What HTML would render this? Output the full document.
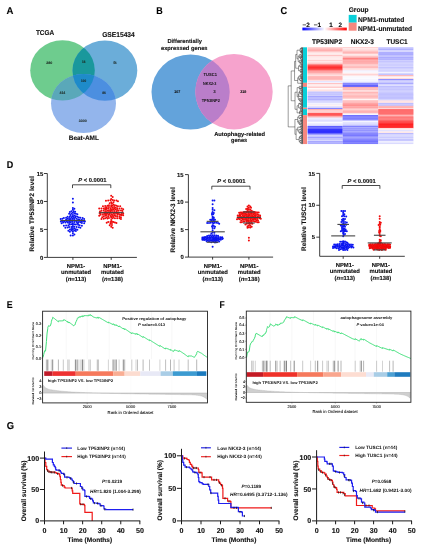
<!DOCTYPE html>
<html><head><meta charset="utf-8"><title>Figure</title>
<style>
html,body{margin:0;padding:0;background:#fff;}
svg{display:block;filter:blur(0.3px);}
text{font-family:"Liberation Sans", sans-serif;text-rendering:geometricPrecision;}
.b{stroke:#111;stroke-width:0.12px;}
.s{stroke:#222;stroke-width:0.1px;}
</style></head>
<body>
<svg width="424" height="550" viewBox="0 0 424 550">
<rect x="0" y="0" width="424" height="550" fill="#fff"/>
<text x="6.4" y="13.8" class="b" style="font-size:9.9px;font-weight:bold;" fill="#000" textLength="6.9" lengthAdjust="spacingAndGlyphs">A</text>
<text x="156.2" y="13.8" class="b" style="font-size:9.9px;font-weight:bold;" fill="#000" textLength="6.5" lengthAdjust="spacingAndGlyphs">B</text>
<text x="280.4" y="13.85" class="b" style="font-size:9.9px;font-weight:bold;" fill="#000" textLength="6.6" lengthAdjust="spacingAndGlyphs">C</text>
<text x="6.7" y="168.1" class="b" style="font-size:9.9px;font-weight:bold;" fill="#000" textLength="6.5" lengthAdjust="spacingAndGlyphs">D</text>
<text x="6.7" y="308.1" class="b" style="font-size:9.9px;font-weight:bold;" fill="#000" textLength="5.9" lengthAdjust="spacingAndGlyphs">E</text>
<text x="219.5" y="308.0" class="b" style="font-size:9.9px;font-weight:bold;" fill="#000" textLength="5.2" lengthAdjust="spacingAndGlyphs">F</text>
<text x="6.7" y="428.85" class="b" style="font-size:9.9px;font-weight:bold;" fill="#000" textLength="7.3" lengthAdjust="spacingAndGlyphs">G</text>
<defs><clipPath id="cG"><ellipse cx="62.5" cy="70.4" rx="32.3" ry="30.2" fill="#000"/></clipPath><clipPath id="cB"><ellipse cx="104.9" cy="70.6" rx="32.4" ry="30.2" fill="#000"/></clipPath><clipPath id="cT"><ellipse cx="83.5" cy="103.4" rx="32.5" ry="29.5" fill="#000"/></clipPath></defs>
<ellipse cx="62.5" cy="70.4" rx="32.3" ry="30.2" fill="#6ECC8E"/>
<ellipse cx="104.9" cy="70.6" rx="32.4" ry="30.2" fill="#6BADD9"/>
<ellipse cx="83.5" cy="103.4" rx="32.5" ry="29.5" fill="#93B5EC"/>
<g clip-path="url(#cG)"><ellipse cx="104.9" cy="70.6" rx="32.4" ry="30.2" fill="#1A989C"/><ellipse cx="83.5" cy="103.4" rx="32.5" ry="29.5" fill="#5AA8B9"/></g>
<g clip-path="url(#cB)"><ellipse cx="83.5" cy="103.4" rx="32.5" ry="29.5" fill="#4C8FE0"/></g>
<g clip-path="url(#cG)"><g clip-path="url(#cB)"><ellipse cx="83.5" cy="103.4" rx="32.5" ry="29.5" fill="#1E8BC9"/></g></g>
<text x="35.9" y="35.4" class="b" style="font-size:7.1px;font-weight:bold;" fill="#111" textLength="18.3" lengthAdjust="spacingAndGlyphs">TCGA</text>
<text x="102.2" y="36.6" class="b" style="font-size:7.1px;font-weight:bold;" fill="#111" textLength="32.6" lengthAdjust="spacingAndGlyphs">GSE15434</text>
<text x="68.7" y="140.4" class="b" style="font-size:6.6px;font-weight:bold;" fill="#111" textLength="30.3" lengthAdjust="spacingAndGlyphs">Beat-AML</text>
<text x="46.2" y="63.5" style="font-size:3.5px;font-weight:bold;" fill="#1c2820" textLength="6.1" lengthAdjust="spacingAndGlyphs" stroke="#1c2820" stroke-width="0.08">380</text>
<text x="82" y="63.2" style="font-size:3.5px;font-weight:bold;" fill="#1c2820" textLength="3.5" lengthAdjust="spacingAndGlyphs" stroke="#1c2820" stroke-width="0.08">16</text>
<text x="113.5" y="63.5" style="font-size:3.5px;font-weight:bold;" fill="#1c2820" textLength="3.1" lengthAdjust="spacingAndGlyphs" stroke="#1c2820" stroke-width="0.08">56</text>
<text x="81" y="82.39999999999999" style="font-size:3.5px;font-weight:bold;" fill="#1c2820" textLength="5.1" lengthAdjust="spacingAndGlyphs" stroke="#1c2820" stroke-width="0.08">100</text>
<text x="102.2" y="93.69999999999999" style="font-size:3.5px;font-weight:bold;" fill="#1c2820" textLength="3.7" lengthAdjust="spacingAndGlyphs" stroke="#1c2820" stroke-width="0.08">86</text>
<text x="59.5" y="93.8" style="font-size:3.5px;font-weight:bold;" fill="#1c2820" textLength="5.8" lengthAdjust="spacingAndGlyphs" stroke="#1c2820" stroke-width="0.08">414</text>
<text x="78.8" y="122.0" style="font-size:3.5px;font-weight:bold;" fill="#1c2820" textLength="7.8" lengthAdjust="spacingAndGlyphs" stroke="#1c2820" stroke-width="0.08">3300</text>
<defs><clipPath id="cL"><ellipse cx="190.6" cy="92.0" rx="39.1" ry="37.5" fill="#000"/></clipPath></defs>
<ellipse cx="190.6" cy="92.0" rx="39.1" ry="37.5" fill="#63A3DB"/>
<ellipse cx="234.0" cy="91.7" rx="38.7" ry="37.8" fill="#F6A3CD"/>
<g clip-path="url(#cL)"><ellipse cx="234.0" cy="91.7" rx="38.7" ry="37.8" fill="#BA7ECA"/></g>
<text x="167.4" y="42.7" class="b" style="font-size:5.8px;font-weight:bold;" fill="#111" textLength="34.5" lengthAdjust="spacingAndGlyphs">Differentially</text>
<text x="161.0" y="49.9" class="b" style="font-size:5.8px;font-weight:bold;" fill="#111" textLength="46.5" lengthAdjust="spacingAndGlyphs">expressed genes</text>
<text x="214.2" y="136.0" class="b" style="font-size:5.8px;font-weight:bold;" fill="#111" textLength="50.9" lengthAdjust="spacingAndGlyphs">Autophagy-related</text>
<text x="231.1" y="142.4" class="b" style="font-size:5.8px;font-weight:bold;" fill="#111" textLength="16.1" lengthAdjust="spacingAndGlyphs">genes</text>
<text x="203.6" y="76.0" style="font-size:4.4px;font-weight:bold;" fill="#111" textLength="13.3" lengthAdjust="spacingAndGlyphs">TUSC1</text>
<text x="203.0" y="85.0" style="font-size:4.4px;font-weight:bold;" fill="#111" textLength="13.4" lengthAdjust="spacingAndGlyphs">NKX2-3</text>
<text x="213.3" y="93.2" style="font-size:4.4px;font-weight:bold;" fill="#111">3</text>
<text x="201.7" y="101.9" style="font-size:4.4px;font-weight:bold;" fill="#111" textLength="18.2" lengthAdjust="spacingAndGlyphs">TP53INP2</text>
<text x="174.2" y="92.8" style="font-size:3.9px;font-weight:bold;" fill="#111" textLength="6.0" lengthAdjust="spacingAndGlyphs" stroke="#111" stroke-width="0.08">107</text>
<text x="240.3" y="93.0" style="font-size:3.9px;font-weight:bold;" fill="#111" textLength="6.1" lengthAdjust="spacingAndGlyphs" stroke="#111" stroke-width="0.08">219</text>
<rect x="307.60" y="47.30" width="35.10" height="1.30" fill="#ffbfbf"/>
<rect x="307.60" y="48.55" width="35.10" height="1.30" fill="#ffacac"/>
<rect x="307.60" y="49.80" width="35.10" height="1.30" fill="#ffaeae"/>
<rect x="307.60" y="51.05" width="35.10" height="1.30" fill="#ffc6c6"/>
<rect x="307.60" y="52.30" width="35.10" height="1.05" fill="#ffdddd"/>
<rect x="307.60" y="53.30" width="35.10" height="1.75" fill="#ffe8e8"/>
<rect x="307.60" y="55.00" width="35.10" height="1.55" fill="#ffc4c4"/>
<rect x="307.60" y="56.50" width="35.10" height="1.05" fill="#ffebeb"/>
<rect x="307.60" y="57.50" width="35.10" height="1.05" fill="#ffe0e0"/>
<rect x="307.60" y="58.50" width="35.10" height="1.55" fill="#ffebeb"/>
<rect x="307.60" y="60.00" width="35.10" height="1.40" fill="#ffd0d0"/>
<rect x="307.60" y="61.35" width="35.10" height="1.40" fill="#ffe7e7"/>
<rect x="307.60" y="62.70" width="35.10" height="0.95" fill="#ffb6b6"/>
<rect x="307.60" y="63.60" width="35.10" height="0.95" fill="#ffc1c1"/>
<rect x="307.60" y="64.50" width="35.10" height="1.23" fill="#ff3636"/>
<rect x="307.60" y="65.68" width="35.10" height="1.23" fill="#ff3030"/>
<rect x="307.60" y="66.86" width="35.10" height="1.23" fill="#ff2d2d"/>
<rect x="307.60" y="68.04" width="35.10" height="1.23" fill="#ff3434"/>
<rect x="307.60" y="69.22" width="35.10" height="1.23" fill="#ff3434"/>
<rect x="307.60" y="70.40" width="35.10" height="1.02" fill="#ff7676"/>
<rect x="307.60" y="71.37" width="35.10" height="1.02" fill="#ff8c8c"/>
<rect x="307.60" y="72.33" width="35.10" height="1.02" fill="#ff9595"/>
<rect x="307.60" y="73.30" width="35.10" height="1.05" fill="#ffbaba"/>
<rect x="307.60" y="74.30" width="35.10" height="1.05" fill="#ffc9c9"/>
<rect x="307.60" y="75.30" width="35.10" height="1.05" fill="#ffdada"/>
<rect x="307.60" y="76.30" width="35.10" height="1.22" fill="#ffa4a4"/>
<rect x="307.60" y="77.47" width="35.10" height="1.22" fill="#ffa0a0"/>
<rect x="307.60" y="78.63" width="35.10" height="1.22" fill="#ffaaaa"/>
<rect x="307.60" y="79.80" width="35.10" height="1.25" fill="#ffe1e1"/>
<rect x="307.60" y="81.00" width="35.10" height="1.05" fill="#e6e6ff"/>
<rect x="307.60" y="82.00" width="35.10" height="1.05" fill="#f2f2ff"/>
<rect x="307.60" y="83.00" width="35.10" height="1.55" fill="#ffc3c3"/>
<rect x="307.60" y="84.50" width="35.10" height="1.05" fill="#fff5f5"/>
<rect x="307.60" y="85.50" width="35.10" height="1.05" fill="#ffe5e5"/>
<rect x="307.60" y="86.50" width="35.10" height="1.55" fill="#ffcccc"/>
<rect x="307.60" y="88.00" width="35.10" height="0.95" fill="#fffcfc"/>
<rect x="307.60" y="88.90" width="35.10" height="0.95" fill="#fff0f0"/>
<rect x="307.60" y="89.80" width="35.10" height="0.95" fill="#ffd7d7"/>
<rect x="307.60" y="90.70" width="35.10" height="0.95" fill="#ffe8e8"/>
<rect x="307.60" y="91.60" width="35.10" height="1.15" fill="#b4b4ff"/>
<rect x="307.60" y="92.70" width="35.10" height="1.15" fill="#c4c4ff"/>
<rect x="307.60" y="93.80" width="35.10" height="1.15" fill="#c3c3ff"/>
<rect x="307.60" y="94.90" width="35.10" height="1.15" fill="#cfcfff"/>
<rect x="307.60" y="96.00" width="35.10" height="1.35" fill="#a6a6ff"/>
<rect x="307.60" y="97.30" width="35.10" height="1.35" fill="#aeaeff"/>
<rect x="307.60" y="98.60" width="35.10" height="1.35" fill="#acacff"/>
<rect x="307.60" y="99.90" width="35.10" height="1.65" fill="#cdcdff"/>
<rect x="307.60" y="101.50" width="35.10" height="1.35" fill="#ceceff"/>
<rect x="307.60" y="102.80" width="35.10" height="0.95" fill="#f7f7ff"/>
<rect x="307.60" y="103.70" width="35.10" height="0.95" fill="#e5e5ff"/>
<rect x="307.60" y="104.60" width="35.10" height="0.95" fill="#ffecec"/>
<rect x="307.60" y="105.50" width="35.10" height="0.95" fill="#fff3f3"/>
<rect x="307.60" y="106.40" width="35.10" height="1.65" fill="#d5d5ff"/>
<rect x="307.60" y="108.00" width="35.10" height="1.15" fill="#8585ff"/>
<rect x="307.60" y="109.10" width="35.10" height="1.00" fill="#ffaaaa"/>
<rect x="307.60" y="110.05" width="35.10" height="1.00" fill="#ffcaca"/>
<rect x="307.60" y="111.00" width="35.10" height="1.00" fill="#ffd0d0"/>
<rect x="307.60" y="111.95" width="35.10" height="1.00" fill="#ffd0d0"/>
<rect x="307.60" y="112.90" width="35.10" height="1.22" fill="#ff5959"/>
<rect x="307.60" y="114.07" width="35.10" height="1.22" fill="#ff4a4a"/>
<rect x="307.60" y="115.23" width="35.10" height="1.22" fill="#ff4e4e"/>
<rect x="307.60" y="116.40" width="35.10" height="1.25" fill="#ffa8a8"/>
<rect x="307.60" y="117.60" width="35.10" height="1.00" fill="#e4e4ff"/>
<rect x="307.60" y="118.55" width="35.10" height="1.00" fill="#eaeaff"/>
<rect x="307.60" y="119.50" width="35.10" height="1.55" fill="#dedeff"/>
<rect x="307.60" y="121.00" width="35.10" height="1.30" fill="#e6e6ff"/>
<rect x="307.60" y="122.25" width="35.10" height="1.30" fill="#fbfbff"/>
<rect x="307.60" y="123.50" width="35.10" height="1.25" fill="#dfdfff"/>
<rect x="307.60" y="124.70" width="35.10" height="1.25" fill="#e7e7ff"/>
<rect x="307.60" y="125.90" width="35.10" height="1.02" fill="#5252ff"/>
<rect x="307.60" y="126.87" width="35.10" height="1.02" fill="#6868ff"/>
<rect x="307.60" y="127.83" width="35.10" height="1.02" fill="#6262ff"/>
<rect x="307.60" y="128.80" width="35.10" height="1.10" fill="#2525ff"/>
<rect x="307.60" y="129.85" width="35.10" height="1.10" fill="#2b2bff"/>
<rect x="307.60" y="130.90" width="35.10" height="1.10" fill="#2f2fff"/>
<rect x="307.60" y="131.95" width="35.10" height="1.10" fill="#3333ff"/>
<rect x="307.60" y="133.00" width="35.10" height="1.75" fill="#6969ff"/>
<rect x="307.60" y="134.70" width="35.10" height="1.20" fill="#ccccff"/>
<rect x="307.60" y="135.85" width="35.10" height="1.20" fill="#c6c6ff"/>
<rect x="307.60" y="137.00" width="35.10" height="1.55" fill="#a4a4ff"/>
<rect x="307.60" y="138.50" width="35.10" height="1.40" fill="#b9b9ff"/>
<rect x="307.60" y="139.85" width="35.10" height="1.40" fill="#d9d9ff"/>
<rect x="307.60" y="141.20" width="35.10" height="1.45" fill="#9494ff"/>
<rect x="307.60" y="142.60" width="35.10" height="1.45" fill="#aeaeff"/>
<rect x="342.70" y="47.30" width="35.60" height="1.05" fill="#ffbfbf"/>
<rect x="342.70" y="48.30" width="35.60" height="1.05" fill="#ffe8e8"/>
<rect x="342.70" y="49.30" width="35.60" height="1.05" fill="#ffd5d5"/>
<rect x="342.70" y="50.30" width="35.60" height="1.05" fill="#ffcaca"/>
<rect x="342.70" y="51.30" width="35.60" height="1.05" fill="#ffb4b4"/>
<rect x="342.70" y="52.30" width="35.60" height="1.05" fill="#ffa2a2"/>
<rect x="342.70" y="53.30" width="35.60" height="1.20" fill="#ffbcbc"/>
<rect x="342.70" y="54.45" width="35.60" height="1.20" fill="#fff2f2"/>
<rect x="342.70" y="55.60" width="35.60" height="1.25" fill="#ffc0c0"/>
<rect x="342.70" y="56.80" width="35.60" height="1.25" fill="#ffaeae"/>
<rect x="342.70" y="58.00" width="35.60" height="1.13" fill="#ff8383"/>
<rect x="342.70" y="59.08" width="35.60" height="1.13" fill="#ff9393"/>
<rect x="342.70" y="60.17" width="35.60" height="1.13" fill="#ffa3a3"/>
<rect x="342.70" y="61.25" width="35.60" height="1.13" fill="#ff9595"/>
<rect x="342.70" y="62.33" width="35.60" height="1.13" fill="#ff9999"/>
<rect x="342.70" y="63.42" width="35.60" height="1.13" fill="#ff9c9c"/>
<rect x="342.70" y="64.50" width="35.60" height="1.22" fill="#ffcaca"/>
<rect x="342.70" y="65.67" width="35.60" height="1.22" fill="#ffbaba"/>
<rect x="342.70" y="66.83" width="35.60" height="1.22" fill="#ffbbbb"/>
<rect x="342.70" y="68.00" width="35.60" height="1.25" fill="#ffdada"/>
<rect x="342.70" y="69.20" width="35.60" height="1.25" fill="#ffdcdc"/>
<rect x="342.70" y="70.40" width="35.60" height="1.22" fill="#ededff"/>
<rect x="342.70" y="71.57" width="35.60" height="1.22" fill="#f8f8ff"/>
<rect x="342.70" y="72.73" width="35.60" height="1.22" fill="#ffeeee"/>
<rect x="342.70" y="73.90" width="35.60" height="1.25" fill="#ffd4d4"/>
<rect x="342.70" y="75.10" width="35.60" height="1.25" fill="#ffe5e5"/>
<rect x="342.70" y="76.30" width="35.60" height="1.08" fill="#fafaff"/>
<rect x="342.70" y="77.33" width="35.60" height="1.07" fill="#f7f7ff"/>
<rect x="342.70" y="78.35" width="35.60" height="1.08" fill="#fafaff"/>
<rect x="342.70" y="79.38" width="35.60" height="1.08" fill="#f1f1ff"/>
<rect x="342.70" y="80.40" width="35.60" height="1.25" fill="#f3f3ff"/>
<rect x="342.70" y="81.60" width="35.60" height="1.25" fill="#e6e6ff"/>
<rect x="342.70" y="82.80" width="35.60" height="1.08" fill="#7979ff"/>
<rect x="342.70" y="83.83" width="35.60" height="1.07" fill="#8a8aff"/>
<rect x="342.70" y="84.85" width="35.60" height="1.08" fill="#5a5aff"/>
<rect x="342.70" y="85.88" width="35.60" height="1.08" fill="#5d5dff"/>
<rect x="342.70" y="86.90" width="35.60" height="1.05" fill="#ffaaaa"/>
<rect x="342.70" y="87.90" width="35.60" height="1.05" fill="#ffbebe"/>
<rect x="342.70" y="88.90" width="35.60" height="1.05" fill="#ffb6b6"/>
<rect x="342.70" y="89.90" width="35.60" height="1.20" fill="#ffdede"/>
<rect x="342.70" y="91.05" width="35.60" height="1.20" fill="#ffd6d6"/>
<rect x="342.70" y="92.20" width="35.60" height="1.20" fill="#ffa8a8"/>
<rect x="342.70" y="93.35" width="35.60" height="1.20" fill="#ffb7b7"/>
<rect x="342.70" y="94.50" width="35.60" height="1.55" fill="#ffbfbf"/>
<rect x="342.70" y="96.00" width="35.60" height="1.40" fill="#ffb8b8"/>
<rect x="342.70" y="97.35" width="35.60" height="1.40" fill="#ffaeae"/>
<rect x="342.70" y="98.70" width="35.60" height="0.95" fill="#fff7f7"/>
<rect x="342.70" y="99.60" width="35.60" height="0.95" fill="#ffeded"/>
<rect x="342.70" y="100.50" width="35.60" height="1.02" fill="#ffa2a2"/>
<rect x="342.70" y="101.47" width="35.60" height="1.02" fill="#ffb6b6"/>
<rect x="342.70" y="102.43" width="35.60" height="1.02" fill="#ffa5a5"/>
<rect x="342.70" y="103.40" width="35.60" height="1.25" fill="#ff8585"/>
<rect x="342.70" y="104.60" width="35.60" height="1.25" fill="#ff7a7a"/>
<rect x="342.70" y="105.80" width="35.60" height="1.15" fill="#ffa7a7"/>
<rect x="342.70" y="106.90" width="35.60" height="1.15" fill="#ffa4a4"/>
<rect x="342.70" y="108.00" width="35.60" height="1.30" fill="#ffc1c1"/>
<rect x="342.70" y="109.25" width="35.60" height="1.30" fill="#ffc9c9"/>
<rect x="342.70" y="110.50" width="35.60" height="1.05" fill="#ff9e9e"/>
<rect x="342.70" y="111.50" width="35.60" height="1.05" fill="#ff9b9b"/>
<rect x="342.70" y="112.50" width="35.60" height="1.05" fill="#ffa4a4"/>
<rect x="342.70" y="113.50" width="35.60" height="1.55" fill="#f7f7ff"/>
<rect x="342.70" y="115.00" width="35.60" height="1.17" fill="#7171ff"/>
<rect x="342.70" y="116.12" width="35.60" height="1.17" fill="#7676ff"/>
<rect x="342.70" y="117.24" width="35.60" height="1.17" fill="#6e6eff"/>
<rect x="342.70" y="118.36" width="35.60" height="1.17" fill="#5858ff"/>
<rect x="342.70" y="119.48" width="35.60" height="1.17" fill="#7272ff"/>
<rect x="342.70" y="120.60" width="35.60" height="1.75" fill="#f5f5ff"/>
<rect x="342.70" y="122.30" width="35.60" height="1.25" fill="#dbdbff"/>
<rect x="342.70" y="123.50" width="35.60" height="1.25" fill="#d4d4ff"/>
<rect x="342.70" y="124.70" width="35.60" height="1.25" fill="#c3c3ff"/>
<rect x="342.70" y="125.90" width="35.60" height="1.20" fill="#8282ff"/>
<rect x="342.70" y="127.05" width="35.60" height="1.20" fill="#a8a8ff"/>
<rect x="342.70" y="128.20" width="35.60" height="1.45" fill="#8585ff"/>
<rect x="342.70" y="129.60" width="35.60" height="1.45" fill="#9494ff"/>
<rect x="342.70" y="131.00" width="35.60" height="1.55" fill="#aaaaff"/>
<rect x="342.70" y="132.50" width="35.60" height="1.22" fill="#6767ff"/>
<rect x="342.70" y="133.67" width="35.60" height="1.22" fill="#7878ff"/>
<rect x="342.70" y="134.83" width="35.60" height="1.22" fill="#7979ff"/>
<rect x="342.70" y="136.00" width="35.60" height="1.55" fill="#9494ff"/>
<rect x="342.70" y="137.50" width="35.60" height="1.22" fill="#8282ff"/>
<rect x="342.70" y="138.67" width="35.60" height="1.22" fill="#7d7dff"/>
<rect x="342.70" y="139.83" width="35.60" height="1.22" fill="#7d7dff"/>
<rect x="342.70" y="141.00" width="35.60" height="1.05" fill="#7272ff"/>
<rect x="342.70" y="142.00" width="35.60" height="1.05" fill="#8585ff"/>
<rect x="342.70" y="143.00" width="35.60" height="1.05" fill="#7d7dff"/>
<rect x="378.30" y="47.30" width="35.10" height="1.40" fill="#b9b9ff"/>
<rect x="378.30" y="48.65" width="35.10" height="1.40" fill="#b1b1ff"/>
<rect x="378.30" y="50.00" width="35.10" height="1.05" fill="#d5d5ff"/>
<rect x="378.30" y="51.00" width="35.10" height="1.05" fill="#d7d7ff"/>
<rect x="378.30" y="52.00" width="35.10" height="1.05" fill="#afafff"/>
<rect x="378.30" y="53.00" width="35.10" height="1.05" fill="#afafff"/>
<rect x="378.30" y="54.00" width="35.10" height="1.05" fill="#acacff"/>
<rect x="378.30" y="55.00" width="35.10" height="1.05" fill="#c1c1ff"/>
<rect x="378.30" y="56.00" width="35.10" height="1.05" fill="#c5c5ff"/>
<rect x="378.30" y="57.00" width="35.10" height="1.05" fill="#acacff"/>
<rect x="378.30" y="58.00" width="35.10" height="1.05" fill="#b8b8ff"/>
<rect x="378.30" y="59.00" width="35.10" height="1.05" fill="#b3b3ff"/>
<rect x="378.30" y="60.00" width="35.10" height="1.35" fill="#cfcfff"/>
<rect x="378.30" y="61.30" width="35.10" height="1.35" fill="#b4b4ff"/>
<rect x="378.30" y="62.60" width="35.10" height="1.35" fill="#d3d3ff"/>
<rect x="378.30" y="63.90" width="35.10" height="1.08" fill="#ceceff"/>
<rect x="378.30" y="64.93" width="35.10" height="1.08" fill="#ceceff"/>
<rect x="378.30" y="65.97" width="35.10" height="1.08" fill="#d6d6ff"/>
<rect x="378.30" y="67.00" width="35.10" height="1.05" fill="#c4c4ff"/>
<rect x="378.30" y="68.00" width="35.10" height="1.05" fill="#d0d0ff"/>
<rect x="378.30" y="69.00" width="35.10" height="1.13" fill="#d8d8ff"/>
<rect x="378.30" y="70.08" width="35.10" height="1.13" fill="#d1d1ff"/>
<rect x="378.30" y="71.15" width="35.10" height="1.12" fill="#d5d5ff"/>
<rect x="378.30" y="72.22" width="35.10" height="1.13" fill="#f3f3ff"/>
<rect x="378.30" y="73.30" width="35.10" height="1.00" fill="#c8c8ff"/>
<rect x="378.30" y="74.25" width="35.10" height="1.00" fill="#b7b7ff"/>
<rect x="378.30" y="75.20" width="35.10" height="1.35" fill="#ffadad"/>
<rect x="378.30" y="76.50" width="35.10" height="1.30" fill="#fffcfc"/>
<rect x="378.30" y="77.75" width="35.10" height="1.30" fill="#ffdcdc"/>
<rect x="378.30" y="79.00" width="35.10" height="1.45" fill="#9090ff"/>
<rect x="378.30" y="80.40" width="35.10" height="1.25" fill="#c6c6ff"/>
<rect x="378.30" y="81.60" width="35.10" height="1.25" fill="#c7c7ff"/>
<rect x="378.30" y="82.80" width="35.10" height="1.25" fill="#ababff"/>
<rect x="378.30" y="84.00" width="35.10" height="1.05" fill="#d5d5ff"/>
<rect x="378.30" y="85.00" width="35.10" height="1.05" fill="#dfdfff"/>
<rect x="378.30" y="86.00" width="35.10" height="1.38" fill="#bebeff"/>
<rect x="378.30" y="87.33" width="35.10" height="1.38" fill="#bbbbff"/>
<rect x="378.30" y="88.67" width="35.10" height="1.38" fill="#c5c5ff"/>
<rect x="378.30" y="90.00" width="35.10" height="1.05" fill="#ceceff"/>
<rect x="378.30" y="91.00" width="35.10" height="1.05" fill="#d1d1ff"/>
<rect x="378.30" y="92.00" width="35.10" height="1.05" fill="#cacaff"/>
<rect x="378.30" y="93.00" width="35.10" height="1.38" fill="#c3c3ff"/>
<rect x="378.30" y="94.33" width="35.10" height="1.38" fill="#adadff"/>
<rect x="378.30" y="95.67" width="35.10" height="1.38" fill="#c5c5ff"/>
<rect x="378.30" y="97.00" width="35.10" height="1.22" fill="#c0c0ff"/>
<rect x="378.30" y="98.17" width="35.10" height="1.22" fill="#b8b8ff"/>
<rect x="378.30" y="99.33" width="35.10" height="1.22" fill="#ccccff"/>
<rect x="378.30" y="100.50" width="35.10" height="1.25" fill="#ffdbdb"/>
<rect x="378.30" y="101.70" width="35.10" height="1.25" fill="#ffe5e5"/>
<rect x="378.30" y="102.90" width="35.10" height="1.02" fill="#b8b8ff"/>
<rect x="378.30" y="103.87" width="35.10" height="1.02" fill="#c9c9ff"/>
<rect x="378.30" y="104.83" width="35.10" height="1.02" fill="#b9b9ff"/>
<rect x="378.30" y="105.80" width="35.10" height="1.22" fill="#ffb4b4"/>
<rect x="378.30" y="106.97" width="35.10" height="1.22" fill="#ffb1b1"/>
<rect x="378.30" y="108.13" width="35.10" height="1.22" fill="#ffd3d3"/>
<rect x="378.30" y="109.30" width="35.10" height="1.13" fill="#ff3e3e"/>
<rect x="378.30" y="110.38" width="35.10" height="1.13" fill="#ff4747"/>
<rect x="378.30" y="111.46" width="35.10" height="1.13" fill="#ff4545"/>
<rect x="378.30" y="112.54" width="35.10" height="1.13" fill="#ff4a4a"/>
<rect x="378.30" y="113.62" width="35.10" height="1.13" fill="#ff4a4a"/>
<rect x="378.30" y="114.70" width="35.10" height="1.75" fill="#ffb3b3"/>
<rect x="378.30" y="116.40" width="35.10" height="1.10" fill="#ff5a5a"/>
<rect x="378.30" y="117.45" width="35.10" height="1.10" fill="#ff4f4f"/>
<rect x="378.30" y="118.50" width="35.10" height="1.10" fill="#ff6666"/>
<rect x="378.30" y="119.55" width="35.10" height="1.10" fill="#ff5757"/>
<rect x="378.30" y="120.60" width="35.10" height="1.14" fill="#ff2828"/>
<rect x="378.30" y="121.69" width="35.10" height="1.14" fill="#ff3434"/>
<rect x="378.30" y="122.77" width="35.10" height="1.14" fill="#ff2525"/>
<rect x="378.30" y="123.86" width="35.10" height="1.14" fill="#ff2323"/>
<rect x="378.30" y="124.94" width="35.10" height="1.14" fill="#ff2929"/>
<rect x="378.30" y="126.03" width="35.10" height="1.14" fill="#ff2424"/>
<rect x="378.30" y="127.11" width="35.10" height="1.14" fill="#ff2222"/>
<rect x="378.30" y="128.20" width="35.10" height="0.95" fill="#ffe5e5"/>
<rect x="378.30" y="129.10" width="35.10" height="0.95" fill="#ffeded"/>
<rect x="378.30" y="130.00" width="35.10" height="1.55" fill="#e2e2ff"/>
<rect x="378.30" y="131.50" width="35.10" height="1.55" fill="#ffe8e8"/>
<rect x="378.30" y="133.00" width="35.10" height="1.38" fill="#babaff"/>
<rect x="378.30" y="134.33" width="35.10" height="1.38" fill="#cdcdff"/>
<rect x="378.30" y="135.67" width="35.10" height="1.38" fill="#d7d7ff"/>
<rect x="378.30" y="137.00" width="35.10" height="1.05" fill="#cbcbff"/>
<rect x="378.30" y="138.00" width="35.10" height="1.05" fill="#dbdbff"/>
<rect x="378.30" y="139.00" width="35.10" height="1.15" fill="#c5c5ff"/>
<rect x="378.30" y="140.10" width="35.10" height="1.15" fill="#c2c2ff"/>
<rect x="378.30" y="141.20" width="35.10" height="1.45" fill="#efefff"/>
<rect x="378.30" y="142.60" width="35.10" height="1.45" fill="#dbdbff"/>
<rect x="303.00" y="47.30" width="4.00" height="35.55" fill="#08CFD9"/>
<rect x="303.00" y="82.80" width="4.00" height="4.15" fill="#F6887F"/>
<rect x="303.00" y="86.90" width="4.00" height="20.85" fill="#08CFD9"/>
<rect x="303.00" y="107.70" width="4.00" height="1.45" fill="#F6887F"/>
<rect x="303.00" y="109.10" width="4.00" height="6.05" fill="#08CFD9"/>
<rect x="303.00" y="115.10" width="4.00" height="28.95" fill="#F6887F"/>
<path d="M302.35,47.98V48.37M302.35,47.98H302.90M302.35,48.37H302.90M301.88,48.18V48.75M301.88,48.18H302.35M301.88,48.75H302.90M301.41,47.60V48.46M301.41,47.60H302.90M301.41,48.46H301.88M302.37,49.14V49.52M302.37,49.14H302.90M302.37,49.52H302.90M300.77,48.03V49.33M300.77,48.03H301.41M300.77,49.33H302.37M302.50,49.91V50.29M302.50,49.91H302.90M302.50,50.29H302.90M302.11,50.10V50.68M302.11,50.10H302.50M302.11,50.68H302.90M301.44,50.39V51.06M301.44,50.39H302.11M301.44,51.06H302.90M301.10,50.72V51.44M301.10,50.72H301.44M301.10,51.44H302.90M302.10,52.21V52.60M302.10,52.21H302.90M302.10,52.60H302.90M302.33,52.98V53.37M302.33,52.98H302.90M302.33,53.37H302.90M301.50,52.41V53.17M301.50,52.41H302.10M301.50,53.17H302.33M301.03,51.83V52.79M301.03,51.83H302.90M301.03,52.79H301.50M300.67,51.08V52.31M300.67,51.08H301.10M300.67,52.31H301.03M300.12,48.68V51.70M300.12,48.68H300.77M300.12,51.70H300.67M302.53,54.13V54.52M302.53,54.13H302.90M302.53,54.52H302.90M302.08,53.75V54.33M302.08,53.75H302.90M302.08,54.33H302.53M302.14,54.90V55.29M302.14,54.90H302.90M302.14,55.29H302.90M301.47,55.10V55.67M301.47,55.10H302.14M301.47,55.67H302.90M300.68,54.04V55.38M300.68,54.04H302.08M300.68,55.38H301.47M302.12,56.06V56.44M302.12,56.06H302.90M302.12,56.44H302.90M301.62,56.25V56.83M301.62,56.25H302.12M301.62,56.83H302.90M302.53,57.98V58.36M302.53,57.98H302.90M302.53,58.36H302.90M301.76,57.59V58.17M301.76,57.59H302.90M301.76,58.17H302.53M301.23,57.21V57.88M301.23,57.21H302.90M301.23,57.88H301.76M302.27,58.75V59.13M302.27,58.75H302.90M302.27,59.13H302.90M301.61,58.94V59.52M301.61,58.94H302.27M301.61,59.52H302.90M300.46,57.55V59.23M300.46,57.55H301.23M300.46,59.23H301.61M300.00,56.54V58.39M300.00,56.54H301.62M300.00,58.39H300.46M299.26,54.71V57.46M299.26,54.71H300.68M299.26,57.46H300.00M302.07,59.90V60.29M302.07,59.90H302.90M302.07,60.29H302.90M302.24,60.67V61.05M302.24,60.67H302.90M302.24,61.05H302.90M301.59,60.09V60.86M301.59,60.09H302.07M301.59,60.86H302.24M302.08,61.82V62.21M302.08,61.82H302.90M302.08,62.21H302.90M301.26,61.44V62.02M301.26,61.44H302.90M301.26,62.02H302.08M302.53,62.59V62.98M302.53,62.59H302.90M302.53,62.98H302.90M300.83,61.73V62.78M300.83,61.73H301.26M300.83,62.78H302.53M302.30,63.36V63.74M302.30,63.36H302.90M302.30,63.74H302.90M300.38,62.26V63.55M300.38,62.26H300.83M300.38,63.55H302.30M299.39,60.48V62.90M299.39,60.48H301.59M299.39,62.90H300.38M298.19,56.09V61.69M298.19,56.09H299.26M298.19,61.69H299.39M297.00,50.19V58.89M297.00,50.19H300.12M297.00,58.89H298.19M302.12,64.13V64.51M302.12,64.13H302.90M302.12,64.51H302.90M302.43,65.28V65.67M302.43,65.28H302.90M302.43,65.67H302.90M301.70,64.90V65.47M301.70,64.90H302.90M301.70,65.47H302.43M301.37,64.32V65.19M301.37,64.32H302.12M301.37,65.19H301.70M302.07,66.44V66.82M302.07,66.44H302.90M302.07,66.82H302.90M301.39,66.05V66.63M301.39,66.05H302.90M301.39,66.63H302.07M302.12,67.59V67.97M302.12,67.59H302.90M302.12,67.97H302.90M301.63,67.20V67.78M301.63,67.20H302.90M301.63,67.78H302.12M300.69,66.34V67.49M300.69,66.34H301.39M300.69,67.49H301.63M299.85,64.75V66.92M299.85,64.75H301.37M299.85,66.92H300.69M302.53,68.36V68.74M302.53,68.36H302.90M302.53,68.74H302.90M301.69,68.55V69.13M301.69,68.55H302.53M301.69,69.13H302.90M302.16,69.90V70.28M302.16,69.90H302.90M302.16,70.28H302.90M301.79,69.51V70.09M301.79,69.51H302.90M301.79,70.09H302.16M301.10,68.84V69.80M301.10,68.84H301.69M301.10,69.80H301.79M302.33,71.05V71.43M302.33,71.05H302.90M302.33,71.43H302.90M302.49,71.82V72.20M302.49,71.82H302.90M302.49,72.20H302.90M301.90,71.24V72.01M301.90,71.24H302.33M301.90,72.01H302.49M301.37,70.66V71.62M301.37,70.66H302.90M301.37,71.62H301.90M302.08,72.97V73.35M302.08,72.97H302.90M302.08,73.35H302.90M301.45,72.59V73.16M301.45,72.59H302.90M301.45,73.16H302.08M300.80,71.14V72.87M300.80,71.14H301.37M300.80,72.87H301.45M300.22,69.32V72.01M300.22,69.32H301.10M300.22,72.01H300.80M298.53,65.83V70.66M298.53,65.83H299.85M298.53,70.66H300.22M295.68,54.54V68.25M295.68,54.54H297.00M295.68,68.25H298.53M302.38,73.74V74.12M302.38,73.74H302.90M302.38,74.12H302.90M302.38,74.51V74.89M302.38,74.51H302.90M302.38,74.89H302.90M301.52,73.93V74.70M301.52,73.93H302.38M301.52,74.70H302.38M302.37,75.28V75.66M302.37,75.28H302.90M302.37,75.66H302.90M300.86,74.32V75.47M300.86,74.32H301.52M300.86,75.47H302.37M302.23,76.05V76.43M302.23,76.05H302.90M302.23,76.43H302.90M302.26,76.81V77.20M302.26,76.81H302.90M302.26,77.20H302.90M301.34,76.24V77.01M301.34,76.24H302.23M301.34,77.01H302.26M300.83,76.62V77.58M300.83,76.62H301.34M300.83,77.58H302.90M300.18,74.89V77.10M300.18,74.89H300.86M300.18,77.10H300.83M302.14,78.74V79.12M302.14,78.74H302.90M302.14,79.12H302.90M301.78,78.35V78.93M301.78,78.35H302.90M301.78,78.93H302.14M301.12,77.97V78.64M301.12,77.97H302.90M301.12,78.64H301.78M302.44,79.51V79.89M302.44,79.51H302.90M302.44,79.89H302.90M301.59,79.70V80.27M301.59,79.70H302.44M301.59,80.27H302.90M302.26,80.66V81.04M302.26,80.66H302.90M302.26,81.04H302.90M302.58,81.43V81.81M302.58,81.43H302.90M302.58,81.81H302.90M301.71,80.85V81.62M301.71,80.85H302.26M301.71,81.62H302.58M300.76,79.99V81.23M300.76,79.99H301.59M300.76,81.23H301.71M299.81,78.30V80.61M299.81,78.30H301.12M299.81,80.61H300.76M298.75,76.00V79.46M298.75,76.00H300.18M298.75,79.46H299.81M302.16,82.20V82.58M302.16,82.20H302.90M302.16,82.58H302.90M302.59,82.96V83.35M302.59,82.96H302.90M302.59,83.35H302.90M302.61,83.73V84.12M302.61,83.73H302.90M302.61,84.12H302.90M302.14,83.16V83.93M302.14,83.16H302.59M302.14,83.93H302.61M302.51,84.50V84.89M302.51,84.50H302.90M302.51,84.89H302.90M301.45,83.54V84.69M301.45,83.54H302.14M301.45,84.69H302.51M301.09,82.39V84.12M301.09,82.39H302.16M301.09,84.12H301.45M297.69,77.73V83.25M297.69,77.73H298.75M297.69,83.25H301.09M294.56,61.39V80.49M294.56,61.39H295.68M294.56,80.49H297.69M302.24,85.27V85.66M302.24,85.27H302.90M302.24,85.66H302.90M302.51,86.04V86.42M302.51,86.04H302.90M302.51,86.42H302.90M301.60,85.46V86.23M301.60,85.46H302.24M301.60,86.23H302.51M301.26,85.85V86.81M301.26,85.85H301.60M301.26,86.81H302.90M302.44,87.58V87.96M302.44,87.58H302.90M302.44,87.96H302.90M302.08,87.19V87.77M302.08,87.19H302.90M302.08,87.77H302.44M301.40,87.48V88.35M301.40,87.48H302.08M301.40,88.35H302.90M300.59,87.91V88.73M300.59,87.91H301.40M300.59,88.73H302.90M302.13,89.12V89.50M302.13,89.12H302.90M302.13,89.50H302.90M299.74,88.32V89.31M299.74,88.32H300.59M299.74,89.31H302.13M299.28,86.33V88.81M299.28,86.33H301.26M299.28,88.81H299.74M302.56,89.88V90.27M302.56,89.88H302.90M302.56,90.27H302.90M301.88,90.08V90.65M301.88,90.08H302.56M301.88,90.65H302.90M302.15,91.04V91.42M302.15,91.04H302.90M302.15,91.42H302.90M301.07,90.36V91.23M301.07,90.36H301.88M301.07,91.23H302.15M302.11,91.81V92.19M302.11,91.81H302.90M302.11,92.19H302.90M302.60,92.57V92.96M302.60,92.57H302.90M302.60,92.96H302.90M301.42,92.00V92.77M301.42,92.00H302.11M301.42,92.77H302.60M302.08,93.34V93.73M302.08,93.34H302.90M302.08,93.73H302.90M302.36,94.11V94.50M302.36,94.11H302.90M302.36,94.50H302.90M302.56,94.88V95.27M302.56,94.88H302.90M302.56,95.27H302.90M301.83,94.30V95.07M301.83,94.30H302.36M301.83,95.07H302.56M301.42,93.54V94.69M301.42,93.54H302.08M301.42,94.69H301.83M300.60,92.38V94.11M300.60,92.38H301.42M300.60,94.11H301.42M299.57,90.80V93.25M299.57,90.80H301.07M299.57,93.25H300.60M302.50,96.03V96.42M302.50,96.03H302.90M302.50,96.42H302.90M302.06,95.65V96.23M302.06,95.65H302.90M302.06,96.23H302.50M302.57,97.19V97.57M302.57,97.19H302.90M302.57,97.57H302.90M301.84,96.80V97.38M301.84,96.80H302.90M301.84,97.38H302.57M301.15,95.94V97.09M301.15,95.94H302.06M301.15,97.09H301.84M298.88,92.02V96.51M298.88,92.02H299.57M298.88,96.51H301.15M302.54,97.96V98.34M302.54,97.96H302.90M302.54,98.34H302.90M302.17,98.15V98.73M302.17,98.15H302.54M302.17,98.73H302.90M302.44,99.11V99.49M302.44,99.11H302.90M302.44,99.49H302.90M301.66,99.30V99.88M301.66,99.30H302.44M301.66,99.88H302.90M302.12,100.65V101.03M302.12,100.65H302.90M302.12,101.03H302.90M301.60,100.26V100.84M301.60,100.26H302.90M301.60,100.84H302.12M302.21,101.42V101.80M302.21,101.42H302.90M302.21,101.80H302.90M301.46,101.61V102.18M301.46,101.61H302.21M301.46,102.18H302.90M300.61,100.55V101.90M300.61,100.55H301.60M300.61,101.90H301.46M299.80,99.59V101.22M299.80,99.59H301.66M299.80,101.22H300.61M299.17,98.44V100.41M299.17,98.44H302.17M299.17,100.41H299.80M298.32,94.27V99.42M298.32,94.27H298.88M298.32,99.42H299.17M297.15,87.57V96.85M297.15,87.57H299.28M297.15,96.85H298.32M302.11,102.57V102.95M302.11,102.57H302.90M302.11,102.95H302.90M301.74,102.76V103.34M301.74,102.76H302.11M301.74,103.34H302.90M302.21,104.11V104.49M302.21,104.11H302.90M302.21,104.49H302.90M301.33,104.30V104.88M301.33,104.30H302.21M301.33,104.88H302.90M300.46,103.72V104.59M300.46,103.72H302.90M300.46,104.59H301.33M299.58,103.05V104.15M299.58,103.05H301.74M299.58,104.15H300.46M302.19,105.26V105.64M302.19,105.26H302.90M302.19,105.64H302.90M302.21,106.03V106.41M302.21,106.03H302.90M302.21,106.41H302.90M301.62,105.45V106.22M301.62,105.45H302.19M301.62,106.22H302.21M302.60,106.80V107.18M302.60,106.80H302.90M302.60,107.18H302.90M302.31,107.57V107.95M302.31,107.57H302.90M302.31,107.95H302.90M301.77,106.99V107.76M301.77,106.99H302.60M301.77,107.76H302.31M300.91,105.84V107.37M300.91,105.84H301.62M300.91,107.37H301.77M302.10,108.72V109.10M302.10,108.72H302.90M302.10,109.10H302.90M301.58,108.34V108.91M301.58,108.34H302.90M301.58,108.91H302.10M302.19,109.49V109.87M302.19,109.49H302.90M302.19,109.87H302.90M300.65,108.62V109.68M300.65,108.62H301.58M300.65,109.68H302.19M300.16,106.61V109.15M300.16,106.61H300.91M300.16,109.15H300.65M298.56,103.60V107.88M298.56,103.60H299.58M298.56,107.88H300.16M302.06,110.26V110.64M302.06,110.26H302.90M302.06,110.64H302.90M302.36,111.79V112.18M302.36,111.79H302.90M302.36,112.18H302.90M301.63,111.41V111.99M301.63,111.41H302.90M301.63,111.99H302.36M301.21,111.03V111.70M301.21,111.03H302.90M301.21,111.70H301.63M300.31,110.45V111.36M300.31,110.45H302.06M300.31,111.36H301.21M302.18,112.56V112.95M302.18,112.56H302.90M302.18,112.95H302.90M299.93,110.91V112.76M299.93,110.91H300.31M299.93,112.76H302.18M302.44,113.33V113.72M302.44,113.33H302.90M302.44,113.72H302.90M302.21,114.10V114.49M302.21,114.10H302.90M302.21,114.49H302.90M301.63,113.52V114.29M301.63,113.52H302.44M301.63,114.29H302.21M299.52,111.83V113.91M299.52,111.83H299.93M299.52,113.91H301.63M297.07,105.74V112.87M297.07,105.74H298.56M297.07,112.87H299.52M295.02,92.21V109.31M295.02,92.21H297.15M295.02,109.31H297.07M291.19,70.94V100.76M291.19,70.94H294.56M291.19,100.76H295.02M302.33,114.87V115.25M302.33,114.87H302.90M302.33,115.25H302.90M302.13,116.02V116.41M302.13,116.02H302.90M302.13,116.41H302.90M301.55,115.64V116.22M301.55,115.64H302.90M301.55,116.22H302.13M301.13,115.06V115.93M301.13,115.06H302.33M301.13,115.93H301.55M302.46,116.79V117.18M302.46,116.79H302.90M302.46,117.18H302.90M302.31,117.56V117.95M302.31,117.56H302.90M302.31,117.95H302.90M301.79,117.75V118.33M301.79,117.75H302.31M301.79,118.33H302.90M300.99,116.98V118.04M300.99,116.98H302.46M300.99,118.04H301.79M302.54,118.71V119.10M302.54,118.71H302.90M302.54,119.10H302.90M302.18,118.91V119.48M302.18,118.91H302.54M302.18,119.48H302.90M299.99,117.51V119.19M299.99,117.51H300.99M299.99,119.19H302.18M298.92,115.49V118.35M298.92,115.49H301.13M298.92,118.35H299.99M302.10,120.25V120.64M302.10,120.25H302.90M302.10,120.64H302.90M301.78,120.44V121.02M301.78,120.44H302.10M301.78,121.02H302.90M301.29,119.87V120.73M301.29,119.87H302.90M301.29,120.73H301.78M300.61,120.30V121.40M300.61,120.30H301.29M300.61,121.40H302.90M302.12,122.17V122.56M302.12,122.17H302.90M302.12,122.56H302.90M301.38,121.79V122.37M301.38,121.79H302.90M301.38,122.37H302.12M302.23,122.94V123.33M302.23,122.94H302.90M302.23,123.33H302.90M301.51,123.13V123.71M301.51,123.13H302.23M301.51,123.71H302.90M302.52,124.10V124.48M302.52,124.10H302.90M302.52,124.48H302.90M300.73,123.42V124.29M300.73,123.42H301.51M300.73,124.29H302.52M302.10,124.86V125.25M302.10,124.86H302.90M302.10,125.25H302.90M300.01,123.86V125.06M300.01,123.86H300.73M300.01,125.06H302.10M299.42,122.08V124.46M299.42,122.08H301.38M299.42,124.46H300.01M298.31,120.85V123.27M298.31,120.85H300.61M298.31,123.27H299.42M297.69,116.92V122.06M297.69,116.92H298.92M297.69,122.06H298.31M302.16,125.63V126.02M302.16,125.63H302.90M302.16,126.02H302.90M301.46,125.83V126.40M301.46,125.83H302.16M301.46,126.40H302.90M302.08,126.79V127.17M302.08,126.79H302.90M302.08,127.17H302.90M300.88,126.11V126.98M300.88,126.11H301.46M300.88,126.98H302.08M302.23,127.56V127.94M302.23,127.56H302.90M302.23,127.94H302.90M300.00,126.55V127.75M300.00,126.55H300.88M300.00,127.75H302.23M302.58,128.71V129.09M302.58,128.71H302.90M302.58,129.09H302.90M301.86,128.90V129.48M301.86,128.90H302.58M301.86,129.48H302.90M301.55,128.32V129.19M301.55,128.32H302.90M301.55,129.19H301.86M302.39,129.86V130.25M302.39,129.86H302.90M302.39,130.25H302.90M301.67,130.05V130.63M301.67,130.05H302.39M301.67,130.63H302.90M300.88,128.76V130.34M300.88,128.76H301.55M300.88,130.34H301.67M302.30,131.01V131.40M302.30,131.01H302.90M302.30,131.40H302.90M302.26,132.17V132.55M302.26,132.17H302.90M302.26,132.55H302.90M301.64,131.78V132.36M301.64,131.78H302.90M301.64,132.36H302.26M301.30,132.07V132.94M301.30,132.07H301.64M301.30,132.94H302.90M300.60,131.21V132.50M300.60,131.21H302.30M300.60,132.50H301.30M302.51,134.09V134.47M302.51,134.09H302.90M302.51,134.47H302.90M301.95,133.71V134.28M301.95,133.71H302.90M301.95,134.28H302.51M301.19,133.32V133.99M301.19,133.32H302.90M301.19,133.99H301.95M299.75,131.86V133.66M299.75,131.86H300.60M299.75,133.66H301.19M298.90,129.55V132.76M298.90,129.55H300.88M298.90,132.76H299.75M297.74,127.15V131.15M297.74,127.15H300.00M297.74,131.15H298.90M302.30,134.86V135.24M302.30,134.86H302.90M302.30,135.24H302.90M301.78,135.05V135.63M301.78,135.05H302.30M301.78,135.63H302.90M302.40,136.01V136.40M302.40,136.01H302.90M302.40,136.40H302.90M301.17,135.34V136.20M301.17,135.34H301.78M301.17,136.20H302.40M302.33,136.78V137.17M302.33,136.78H302.90M302.33,137.17H302.90M300.63,135.77V136.97M300.63,135.77H301.17M300.63,136.97H302.33M302.17,137.93V138.32M302.17,137.93H302.90M302.17,138.32H302.90M301.62,137.55V138.13M301.62,137.55H302.90M301.62,138.13H302.17M302.60,138.70V139.09M302.60,138.70H302.90M302.60,139.09H302.90M301.06,137.84V138.89M301.06,137.84H301.62M301.06,138.89H302.60M299.63,136.37V138.37M299.63,136.37H300.63M299.63,138.37H301.06M302.29,139.47V139.86M302.29,139.47H302.90M302.29,139.86H302.90M301.75,139.66V140.24M301.75,139.66H302.29M301.75,140.24H302.90M302.45,141.01V141.39M302.45,141.01H302.90M302.45,141.39H302.90M301.91,140.62V141.20M301.91,140.62H302.90M301.91,141.20H302.45M300.79,139.95V140.91M300.79,139.95H301.75M300.79,140.91H301.91M302.29,142.16V142.55M302.29,142.16H302.90M302.29,142.55H302.90M301.44,141.78V142.35M301.44,141.78H302.90M301.44,142.35H302.29M302.47,142.93V143.32M302.47,142.93H302.90M302.47,143.32H302.90M301.66,143.12V143.70M301.66,143.12H302.47M301.66,143.70H302.90M300.80,142.07V143.41M300.80,142.07H301.44M300.80,143.41H301.66M299.92,140.43V142.74M299.92,140.43H300.79M299.92,142.74H300.80M299.12,137.37V141.59M299.12,137.37H299.63M299.12,141.59H299.92M296.13,129.15V139.48M296.13,129.15H297.74M296.13,139.48H299.12M294.93,119.49V134.31M294.93,119.49H297.69M294.93,134.31H296.13M288.20,85.85V126.90M288.20,85.85H291.19M288.20,126.90H294.93" fill="none" stroke="#111" stroke-width="0.42"/>
<defs><linearGradient id="cbar" x1="0" x2="1" y1="0" y2="0"><stop offset="0" stop-color="#0000ff"/><stop offset="0.5" stop-color="#ffffff"/><stop offset="1" stop-color="#ff0000"/></linearGradient></defs>
<rect x="302.40" y="27.60" width="44.40" height="2.80" fill="url(#cbar)"/>
<text x="302.4" y="26.5" class="b" style="font-size:6.3px;font-weight:bold;" fill="#111" textLength="7.3" lengthAdjust="spacingAndGlyphs">−2</text>
<text x="313.7" y="26.5" class="b" style="font-size:6.3px;font-weight:bold;" fill="#111" textLength="7.4" lengthAdjust="spacingAndGlyphs">−1</text>
<text x="329.3" y="26.5" class="b" style="font-size:6.3px;font-weight:bold;" fill="#111">1</text>
<text x="338.5" y="26.5" class="b" style="font-size:6.3px;font-weight:bold;" fill="#111">2</text>
<text x="348.7" y="11.7" class="b" style="font-size:6.9px;font-weight:bold;" fill="#111" textLength="19.8" lengthAdjust="spacingAndGlyphs">Group</text>
<rect x="348.70" y="14.90" width="7.90" height="7.80" fill="#08CFD9"/>
<rect x="348.70" y="22.70" width="7.90" height="8.00" fill="#F6887F"/>
<text x="358.0" y="22.1" class="b" style="font-size:6.9px;font-weight:bold;" fill="#111" textLength="46.3" lengthAdjust="spacingAndGlyphs">NPM1-mutated</text>
<text x="358.0" y="30.5" class="b" style="font-size:6.9px;font-weight:bold;" fill="#111" textLength="54.1" lengthAdjust="spacingAndGlyphs">NPM1-unmutated</text>
<text x="312.0" y="43.5" class="b" style="font-size:6.8px;font-weight:bold;" fill="#111" textLength="30.0" lengthAdjust="spacingAndGlyphs">TP53INP2</text>
<text x="350.7" y="43.5" class="b" style="font-size:6.8px;font-weight:bold;" fill="#111" textLength="23.2" lengthAdjust="spacingAndGlyphs">NKX2-3</text>
<text x="386.5" y="43.5" class="b" style="font-size:6.8px;font-weight:bold;" fill="#111" textLength="21.2" lengthAdjust="spacingAndGlyphs">TUSC1</text>
<path d="M47.30,173.50V257.40H136.90" fill="none" stroke="#1a1a1a" stroke-width="0.85"/>
<line x1="43.90" y1="257.40" x2="47.30" y2="257.40" stroke="#1a1a1a" stroke-width="0.85"/>
<line x1="43.90" y1="229.43" x2="47.30" y2="229.43" stroke="#1a1a1a" stroke-width="0.85"/>
<line x1="43.90" y1="201.47" x2="47.30" y2="201.47" stroke="#1a1a1a" stroke-width="0.85"/>
<line x1="43.90" y1="173.50" x2="47.30" y2="173.50" stroke="#1a1a1a" stroke-width="0.85"/>
<text x="36.7" y="175.6" class="b" style="font-size:5.9px;font-weight:bold;" fill="#111">15</text>
<text x="36.7" y="203.56666666666663" class="b" style="font-size:5.9px;font-weight:bold;" fill="#111">10</text>
<text x="39.9" y="231.5333333333333" class="b" style="font-size:5.9px;font-weight:bold;" fill="#111">5</text>
<text x="39.9" y="259.5" class="b" style="font-size:5.9px;font-weight:bold;" fill="#111">0</text>
<line x1="72.90" y1="257.40" x2="72.90" y2="259.90" stroke="#1a1a1a" stroke-width="0.85"/>
<line x1="111.20" y1="257.40" x2="111.20" y2="259.90" stroke="#1a1a1a" stroke-width="0.85"/>
<text x="33.6" y="251.8" class="b" style="font-size:6.5px;font-weight:bold;" fill="#111" textLength="75.8" lengthAdjust="spacingAndGlyphs" transform="rotate(-90 33.6 251.8)">Relative TP53INP2 level</text>
<g fill="#0a14f0"><circle cx="72.90" cy="198.67" r="1.0"/><circle cx="72.90" cy="202.59" r="1.0"/><circle cx="70.65" cy="214.98" r="1.0"/><circle cx="71.40" cy="226.94" r="1.0"/><circle cx="77.40" cy="229.82" r="1.0"/><circle cx="78.15" cy="222.87" r="1.0"/><circle cx="73.65" cy="211.15" r="1.0"/><circle cx="72.90" cy="235.59" r="1.0"/><circle cx="73.65" cy="216.95" r="1.0"/><circle cx="80.40" cy="227.70" r="1.0"/><circle cx="71.40" cy="213.50" r="1.0"/><circle cx="65.40" cy="227.72" r="1.0"/><circle cx="65.40" cy="222.40" r="1.0"/><circle cx="71.40" cy="230.59" r="1.0"/><circle cx="69.15" cy="227.04" r="1.0"/><circle cx="71.40" cy="211.18" r="1.0"/><circle cx="72.90" cy="214.98" r="1.0"/><circle cx="84.15" cy="223.18" r="1.0"/><circle cx="72.90" cy="226.32" r="1.0"/><circle cx="72.90" cy="233.20" r="1.0"/><circle cx="72.90" cy="223.13" r="1.0"/><circle cx="70.65" cy="220.69" r="1.0"/><circle cx="78.15" cy="221.05" r="1.0"/><circle cx="79.96" cy="221.11" r="1.0"/><circle cx="72.90" cy="228.01" r="1.0"/><circle cx="62.40" cy="220.93" r="1.0"/><circle cx="75.90" cy="220.74" r="1.0"/><circle cx="75.15" cy="211.82" r="1.0"/><circle cx="72.90" cy="207.95" r="1.0"/><circle cx="69.15" cy="221.40" r="1.0"/><circle cx="81.90" cy="225.63" r="1.0"/><circle cx="83.40" cy="220.92" r="1.0"/><circle cx="75.90" cy="224.56" r="1.0"/><circle cx="66.15" cy="225.47" r="1.0"/><circle cx="64.65" cy="220.88" r="1.0"/><circle cx="67.65" cy="227.49" r="1.0"/><circle cx="72.15" cy="216.42" r="1.0"/><circle cx="64.11" cy="221.18" r="1.0"/><circle cx="67.65" cy="218.81" r="1.0"/><circle cx="72.15" cy="221.71" r="1.0"/><circle cx="79.65" cy="225.37" r="1.0"/><circle cx="74.40" cy="226.85" r="1.0"/><circle cx="74.40" cy="222.08" r="1.0"/><circle cx="74.40" cy="224.17" r="1.0"/><circle cx="70.52" cy="218.91" r="1.0"/><circle cx="73.65" cy="220.51" r="1.0"/><circle cx="72.90" cy="229.63" r="1.0"/><circle cx="72.15" cy="220.03" r="1.0"/><circle cx="69.90" cy="229.50" r="1.0"/><circle cx="69.90" cy="224.62" r="1.0"/><circle cx="67.65" cy="222.46" r="1.0"/><circle cx="74.40" cy="234.41" r="1.0"/><circle cx="81.90" cy="219.87" r="1.0"/><circle cx="78.15" cy="219.47" r="1.0"/><circle cx="60.90" cy="221.54" r="1.0"/><circle cx="61.65" cy="223.33" r="1.0"/><circle cx="81.90" cy="222.99" r="1.0"/><circle cx="76.65" cy="227.04" r="1.0"/><circle cx="70.65" cy="222.29" r="1.0"/><circle cx="71.40" cy="224.19" r="1.0"/><circle cx="79.65" cy="219.87" r="1.0"/><circle cx="74.40" cy="228.57" r="1.0"/><circle cx="84.15" cy="218.90" r="1.0"/><circle cx="66.15" cy="219.52" r="1.0"/><circle cx="81.90" cy="221.43" r="1.0"/><circle cx="77.48" cy="223.43" r="1.0"/><circle cx="77.40" cy="216.78" r="1.0"/><circle cx="69.90" cy="231.66" r="1.0"/><circle cx="78.90" cy="217.39" r="1.0"/><circle cx="62.40" cy="218.85" r="1.0"/><circle cx="72.90" cy="218.58" r="1.0"/><circle cx="63.90" cy="217.91" r="1.0"/><circle cx="78.15" cy="224.87" r="1.0"/><circle cx="80.27" cy="222.23" r="1.0"/><circle cx="75.90" cy="216.21" r="1.0"/><circle cx="75.15" cy="217.59" r="1.0"/><circle cx="74.40" cy="219.10" r="1.0"/><circle cx="68.40" cy="230.65" r="1.0"/><circle cx="67.65" cy="216.87" r="1.0"/><circle cx="72.90" cy="212.63" r="1.0"/><circle cx="75.90" cy="213.71" r="1.0"/><circle cx="60.68" cy="218.91" r="1.0"/><circle cx="75.90" cy="230.94" r="1.0"/><circle cx="77.40" cy="214.16" r="1.0"/><circle cx="84.90" cy="221.47" r="1.0"/><circle cx="70.65" cy="235.59" r="1.0"/><circle cx="69.15" cy="217.95" r="1.0"/><circle cx="74.40" cy="230.50" r="1.0"/><circle cx="75.90" cy="229.19" r="1.0"/><circle cx="72.90" cy="224.75" r="1.0"/><circle cx="69.90" cy="211.94" r="1.0"/><circle cx="69.15" cy="222.97" r="1.0"/><circle cx="76.65" cy="218.67" r="1.0"/><circle cx="74.40" cy="208.75" r="1.0"/><circle cx="72.90" cy="209.78" r="1.0"/><circle cx="66.64" cy="221.18" r="1.0"/><circle cx="76.65" cy="222.11" r="1.0"/><circle cx="71.40" cy="228.95" r="1.0"/><circle cx="68.40" cy="225.15" r="1.0"/><circle cx="66.15" cy="217.63" r="1.0"/><circle cx="80.40" cy="217.83" r="1.0"/><circle cx="69.15" cy="219.74" r="1.0"/><circle cx="69.15" cy="213.81" r="1.0"/><circle cx="63.90" cy="225.67" r="1.0"/><circle cx="67.65" cy="220.86" r="1.0"/><circle cx="74.40" cy="215.58" r="1.0"/><circle cx="69.90" cy="216.56" r="1.0"/><circle cx="74.40" cy="213.30" r="1.0"/><circle cx="71.40" cy="217.82" r="1.0"/><circle cx="63.15" cy="222.56" r="1.0"/><circle cx="82.65" cy="218.05" r="1.0"/><circle cx="78.90" cy="227.21" r="1.0"/><circle cx="72.90" cy="231.49" r="1.0"/></g>
<g fill="#f00a0a"><circle cx="111.20" cy="195.87" r="1.0"/><circle cx="102.95" cy="214.71" r="1.0"/><circle cx="106.70" cy="207.13" r="1.0"/><circle cx="108.95" cy="210.31" r="1.0"/><circle cx="108.20" cy="216.35" r="1.0"/><circle cx="107.45" cy="212.74" r="1.0"/><circle cx="105.20" cy="208.00" r="1.0"/><circle cx="112.70" cy="227.76" r="1.0"/><circle cx="99.73" cy="213.42" r="1.0"/><circle cx="123.20" cy="209.31" r="1.0"/><circle cx="119.45" cy="208.46" r="1.0"/><circle cx="113.45" cy="202.19" r="1.0"/><circle cx="107.45" cy="205.67" r="1.0"/><circle cx="111.95" cy="210.73" r="1.0"/><circle cx="107.45" cy="210.80" r="1.0"/><circle cx="112.70" cy="207.81" r="1.0"/><circle cx="110.45" cy="215.97" r="1.0"/><circle cx="121.70" cy="212.90" r="1.0"/><circle cx="114.20" cy="207.08" r="1.0"/><circle cx="116.45" cy="200.61" r="1.0"/><circle cx="107.05" cy="213.63" r="1.0"/><circle cx="116.45" cy="212.95" r="1.0"/><circle cx="110.45" cy="211.43" r="1.0"/><circle cx="113.45" cy="204.39" r="1.0"/><circle cx="102.95" cy="212.84" r="1.0"/><circle cx="111.95" cy="203.61" r="1.0"/><circle cx="107.45" cy="218.60" r="1.0"/><circle cx="117.95" cy="213.80" r="1.0"/><circle cx="117.48" cy="213.87" r="1.0"/><circle cx="115.70" cy="207.81" r="1.0"/><circle cx="117.95" cy="206.22" r="1.0"/><circle cx="110.45" cy="221.94" r="1.0"/><circle cx="119.45" cy="218.28" r="1.0"/><circle cx="120.95" cy="210.58" r="1.0"/><circle cx="119.45" cy="216.71" r="1.0"/><circle cx="108.20" cy="222.02" r="1.0"/><circle cx="102.95" cy="206.26" r="1.0"/><circle cx="113.34" cy="209.61" r="1.0"/><circle cx="105.81" cy="209.62" r="1.0"/><circle cx="114.20" cy="215.58" r="1.0"/><circle cx="120.20" cy="206.32" r="1.0"/><circle cx="108.85" cy="214.13" r="1.0"/><circle cx="105.20" cy="205.91" r="1.0"/><circle cx="105.20" cy="218.26" r="1.0"/><circle cx="108.95" cy="217.91" r="1.0"/><circle cx="99.95" cy="211.39" r="1.0"/><circle cx="113.45" cy="216.97" r="1.0"/><circle cx="101.45" cy="208.50" r="1.0"/><circle cx="114.20" cy="211.05" r="1.0"/><circle cx="112.70" cy="218.33" r="1.0"/><circle cx="117.95" cy="212.21" r="1.0"/><circle cx="108.90" cy="214.81" r="1.0"/><circle cx="108.95" cy="207.02" r="1.0"/><circle cx="103.70" cy="216.55" r="1.0"/><circle cx="123.20" cy="215.36" r="1.0"/><circle cx="114.95" cy="205.20" r="1.0"/><circle cx="111.20" cy="198.88" r="1.0"/><circle cx="110.45" cy="200.35" r="1.0"/><circle cx="104.45" cy="212.26" r="1.0"/><circle cx="105.95" cy="211.31" r="1.0"/><circle cx="109.70" cy="203.22" r="1.0"/><circle cx="123.20" cy="213.42" r="1.0"/><circle cx="103.70" cy="218.66" r="1.0"/><circle cx="108.95" cy="211.93" r="1.0"/><circle cx="110.45" cy="209.88" r="1.0"/><circle cx="111.20" cy="217.75" r="1.0"/><circle cx="106.70" cy="222.78" r="1.0"/><circle cx="111.95" cy="221.49" r="1.0"/><circle cx="99.20" cy="208.56" r="1.0"/><circle cx="120.95" cy="217.32" r="1.0"/><circle cx="113.45" cy="213.52" r="1.0"/><circle cx="116.45" cy="211.35" r="1.0"/><circle cx="106.70" cy="208.84" r="1.0"/><circle cx="121.70" cy="214.71" r="1.0"/><circle cx="115.70" cy="209.58" r="1.0"/><circle cx="114.95" cy="218.13" r="1.0"/><circle cx="121.48" cy="214.88" r="1.0"/><circle cx="120.95" cy="218.96" r="1.0"/><circle cx="116.45" cy="205.69" r="1.0"/><circle cx="111.20" cy="212.82" r="1.0"/><circle cx="106.70" cy="217.20" r="1.0"/><circle cx="120.72" cy="214.82" r="1.0"/><circle cx="105.19" cy="214.02" r="1.0"/><circle cx="117.20" cy="208.34" r="1.0"/><circle cx="114.95" cy="222.47" r="1.0"/><circle cx="101.45" cy="219.03" r="1.0"/><circle cx="112.70" cy="214.98" r="1.0"/><circle cx="112.70" cy="197.07" r="1.0"/><circle cx="111.20" cy="206.77" r="1.0"/><circle cx="105.95" cy="213.34" r="1.0"/><circle cx="110.45" cy="208.27" r="1.0"/><circle cx="112.70" cy="199.99" r="1.0"/><circle cx="114.95" cy="214.09" r="1.0"/><circle cx="106.54" cy="214.91" r="1.0"/><circle cx="108.95" cy="205.20" r="1.0"/><circle cx="105.20" cy="209.61" r="1.0"/><circle cx="121.70" cy="208.52" r="1.0"/><circle cx="99.20" cy="215.78" r="1.0"/><circle cx="105.95" cy="200.81" r="1.0"/><circle cx="111.20" cy="202.13" r="1.0"/><circle cx="111.95" cy="209.17" r="1.0"/><circle cx="108.20" cy="208.44" r="1.0"/><circle cx="109.70" cy="225.13" r="1.0"/><circle cx="114.20" cy="208.73" r="1.0"/><circle cx="104.45" cy="213.85" r="1.0"/><circle cx="117.20" cy="209.98" r="1.0"/><circle cx="103.70" cy="208.45" r="1.0"/><circle cx="100.70" cy="214.75" r="1.0"/><circle cx="111.95" cy="223.05" r="1.0"/><circle cx="118.70" cy="210.39" r="1.0"/><circle cx="102.20" cy="217.21" r="1.0"/><circle cx="119.45" cy="214.68" r="1.0"/><circle cx="111.95" cy="216.37" r="1.0"/><circle cx="117.47" cy="214.75" r="1.0"/><circle cx="111.20" cy="226.86" r="1.0"/><circle cx="111.20" cy="205.17" r="1.0"/><circle cx="122.45" cy="211.09" r="1.0"/><circle cx="112.70" cy="205.82" r="1.0"/><circle cx="108.20" cy="200.47" r="1.0"/><circle cx="114.95" cy="212.51" r="1.0"/><circle cx="110.45" cy="223.74" r="1.0"/><circle cx="117.20" cy="218.15" r="1.0"/><circle cx="111.20" cy="220.08" r="1.0"/><circle cx="105.20" cy="215.74" r="1.0"/><circle cx="112.70" cy="212.16" r="1.0"/><circle cx="111.95" cy="224.97" r="1.0"/><circle cx="103.70" cy="210.55" r="1.0"/><circle cx="113.45" cy="221.95" r="1.0"/><circle cx="101.45" cy="210.82" r="1.0"/><circle cx="109.70" cy="213.33" r="1.0"/><circle cx="111.20" cy="214.58" r="1.0"/><circle cx="100.70" cy="213.10" r="1.0"/><circle cx="115.70" cy="215.97" r="1.0"/><circle cx="117.20" cy="216.42" r="1.0"/><circle cx="116.45" cy="223.01" r="1.0"/><circle cx="119.45" cy="212.84" r="1.0"/><circle cx="117.95" cy="201.30" r="1.0"/><circle cx="114.20" cy="200.47" r="1.0"/></g>
<line x1="60.50" y1="220.48" x2="85.30" y2="220.48" stroke="#444" stroke-width="1.1"/>
<line x1="98.80" y1="212.65" x2="123.60" y2="212.65" stroke="#444" stroke-width="1.1"/>
<text x="76.0" y="267.6" class="b" style="font-size:5.9px;font-weight:bold;" fill="#111" text-anchor="middle">NPM1-</text>
<text x="76.0" y="274.1" class="b" style="font-size:5.9px;font-weight:bold;" fill="#111" text-anchor="middle">unmutated</text>
<text x="76.0" y="280.60" class="b" text-anchor="middle" style="font-size:5.9px;font-weight:bold" fill="#111">(<tspan style="font-style:italic">n</tspan>=113)</text>
<text x="112.5" y="267.6" class="b" style="font-size:5.9px;font-weight:bold;" fill="#111" text-anchor="middle">NPM1-</text>
<text x="112.5" y="274.1" class="b" style="font-size:5.9px;font-weight:bold;" fill="#111" text-anchor="middle">mutated</text>
<text x="112.5" y="280.60" class="b" text-anchor="middle" style="font-size:5.9px;font-weight:bold" fill="#111">(<tspan style="font-style:italic">n</tspan>=138)</text>
<path d="M72.50,188.10V184.80H110.80V188.10" fill="none" stroke="#1a1a1a" stroke-width="0.8"/>
<text x="78.2" y="182.4" class="b" style="font-size:5.8px;font-weight:bold" fill="#111"><tspan style="font-style:italic">P</tspan> &lt; 0.0001</text>
<path d="M188.40,174.60V257.10H273.10" fill="none" stroke="#1a1a1a" stroke-width="0.85"/>
<line x1="185.00" y1="257.10" x2="188.40" y2="257.10" stroke="#1a1a1a" stroke-width="0.85"/>
<line x1="185.00" y1="229.60" x2="188.40" y2="229.60" stroke="#1a1a1a" stroke-width="0.85"/>
<line x1="185.00" y1="202.10" x2="188.40" y2="202.10" stroke="#1a1a1a" stroke-width="0.85"/>
<line x1="185.00" y1="174.60" x2="188.40" y2="174.60" stroke="#1a1a1a" stroke-width="0.85"/>
<text x="177.1" y="176.7" class="b" style="font-size:5.9px;font-weight:bold;" fill="#111">15</text>
<text x="177.1" y="204.20000000000002" class="b" style="font-size:5.9px;font-weight:bold;" fill="#111">10</text>
<text x="180.4" y="231.70000000000002" class="b" style="font-size:5.9px;font-weight:bold;" fill="#111">5</text>
<text x="180.4" y="259.20000000000005" class="b" style="font-size:5.9px;font-weight:bold;" fill="#111">0</text>
<line x1="212.60" y1="257.10" x2="212.60" y2="259.60" stroke="#1a1a1a" stroke-width="0.85"/>
<line x1="248.90" y1="257.10" x2="248.90" y2="259.60" stroke="#1a1a1a" stroke-width="0.85"/>
<text x="174.9" y="252.4" class="b" style="font-size:6.5px;font-weight:bold;" fill="#111" textLength="65.1" lengthAdjust="spacingAndGlyphs" transform="rotate(-90 174.9 252.4)">Relative NKX2-3 level</text>
<g fill="#0a14f0"><circle cx="212.60" cy="200.45" r="1.0"/><circle cx="212.60" cy="204.30" r="1.0"/><circle cx="212.60" cy="246.65" r="1.0"/><circle cx="202.40" cy="237.38" r="1.0"/><circle cx="216.80" cy="237.04" r="1.0"/><circle cx="207.80" cy="240.54" r="1.0"/><circle cx="207.57" cy="238.80" r="1.0"/><circle cx="211.40" cy="236.63" r="1.0"/><circle cx="209.09" cy="237.88" r="1.0"/><circle cx="218.81" cy="238.17" r="1.0"/><circle cx="216.20" cy="235.41" r="1.0"/><circle cx="202.42" cy="239.70" r="1.0"/><circle cx="213.59" cy="238.24" r="1.0"/><circle cx="218.00" cy="239.40" r="1.0"/><circle cx="209.00" cy="235.53" r="1.0"/><circle cx="211.40" cy="242.16" r="1.0"/><circle cx="213.00" cy="239.69" r="1.0"/><circle cx="219.26" cy="239.42" r="1.0"/><circle cx="206.00" cy="237.12" r="1.0"/><circle cx="220.40" cy="237.23" r="1.0"/><circle cx="218.00" cy="235.71" r="1.0"/><circle cx="219.20" cy="241.43" r="1.0"/><circle cx="209.60" cy="236.96" r="1.0"/><circle cx="210.20" cy="238.96" r="1.0"/><circle cx="215.56" cy="239.68" r="1.0"/><circle cx="222.20" cy="237.36" r="1.0"/><circle cx="216.65" cy="240.17" r="1.0"/><circle cx="215.00" cy="242.40" r="1.0"/><circle cx="222.10" cy="239.11" r="1.0"/><circle cx="209.00" cy="241.28" r="1.0"/><circle cx="209.00" cy="239.65" r="1.0"/><circle cx="212.60" cy="237.68" r="1.0"/><circle cx="210.80" cy="237.80" r="1.0"/><circle cx="210.80" cy="235.35" r="1.0"/><circle cx="220.40" cy="238.78" r="1.0"/><circle cx="206.60" cy="241.35" r="1.0"/><circle cx="203.50" cy="239.86" r="1.0"/><circle cx="211.40" cy="240.17" r="1.0"/><circle cx="218.00" cy="240.74" r="1.0"/><circle cx="215.40" cy="237.56" r="1.0"/><circle cx="216.20" cy="239.64" r="1.0"/><circle cx="216.80" cy="242.21" r="1.0"/><circle cx="218.60" cy="237.06" r="1.0"/><circle cx="204.21" cy="238.61" r="1.0"/><circle cx="209.14" cy="237.71" r="1.0"/><circle cx="213.80" cy="238.20" r="1.0"/><circle cx="207.80" cy="237.18" r="1.0"/><circle cx="206.60" cy="238.33" r="1.0"/><circle cx="207.20" cy="236.02" r="1.0"/><circle cx="204.21" cy="237.58" r="1.0"/><circle cx="221.06" cy="237.65" r="1.0"/><circle cx="205.37" cy="237.61" r="1.0"/><circle cx="215.60" cy="241.20" r="1.0"/><circle cx="202.40" cy="238.72" r="1.0"/><circle cx="212.00" cy="238.90" r="1.0"/><circle cx="203.92" cy="238.00" r="1.0"/><circle cx="212.60" cy="241.02" r="1.0"/><circle cx="212.60" cy="235.25" r="1.0"/><circle cx="217.40" cy="238.20" r="1.0"/><circle cx="210.20" cy="240.73" r="1.0"/><circle cx="213.80" cy="241.69" r="1.0"/><circle cx="214.36" cy="238.94" r="1.0"/><circle cx="222.80" cy="238.57" r="1.0"/><circle cx="220.81" cy="239.78" r="1.0"/><circle cx="216.30" cy="238.22" r="1.0"/><circle cx="213.20" cy="239.63" r="1.0"/><circle cx="204.20" cy="237.34" r="1.0"/><circle cx="206.60" cy="239.79" r="1.0"/><circle cx="215.08" cy="238.47" r="1.0"/><circle cx="213.20" cy="236.52" r="1.0"/><circle cx="211.40" cy="233.45" r="1.0"/><circle cx="214.40" cy="240.34" r="1.0"/><circle cx="205.40" cy="239.29" r="1.0"/><circle cx="204.81" cy="240.02" r="1.0"/><circle cx="215.00" cy="236.89" r="1.0"/><circle cx="212.60" cy="227.99" r="1.0"/><circle cx="209.00" cy="222.88" r="1.0"/><circle cx="212.00" cy="219.38" r="1.0"/><circle cx="215.00" cy="226.69" r="1.0"/><circle cx="212.00" cy="226.52" r="1.0"/><circle cx="210.80" cy="222.81" r="1.0"/><circle cx="214.40" cy="235.32" r="1.0"/><circle cx="212.60" cy="230.28" r="1.0"/><circle cx="212.60" cy="222.33" r="1.0"/><circle cx="212.60" cy="218.01" r="1.0"/><circle cx="211.40" cy="220.58" r="1.0"/><circle cx="214.40" cy="232.81" r="1.0"/><circle cx="214.40" cy="222.72" r="1.0"/><circle cx="213.80" cy="213.00" r="1.0"/><circle cx="212.00" cy="214.87" r="1.0"/><circle cx="215.00" cy="219.76" r="1.0"/><circle cx="213.80" cy="225.98" r="1.0"/><circle cx="213.20" cy="214.29" r="1.0"/><circle cx="213.20" cy="223.61" r="1.0"/><circle cx="214.40" cy="228.15" r="1.0"/><circle cx="212.60" cy="225.33" r="1.0"/><circle cx="212.60" cy="208.00" r="1.0"/><circle cx="213.80" cy="217.45" r="1.0"/><circle cx="214.40" cy="210.22" r="1.0"/><circle cx="216.20" cy="222.84" r="1.0"/><circle cx="212.60" cy="211.93" r="1.0"/><circle cx="219.20" cy="223.78" r="1.0"/><circle cx="213.20" cy="220.36" r="1.0"/><circle cx="214.40" cy="200.45" r="1.0"/><circle cx="212.00" cy="213.24" r="1.0"/><circle cx="207.20" cy="223.01" r="1.0"/><circle cx="210.20" cy="219.80" r="1.0"/><circle cx="212.60" cy="216.64" r="1.0"/><circle cx="212.60" cy="209.83" r="1.0"/><circle cx="218.00" cy="222.92" r="1.0"/><circle cx="212.60" cy="232.56" r="1.0"/><circle cx="214.40" cy="221.30" r="1.0"/><circle cx="213.80" cy="219.03" r="1.0"/></g>
<g fill="#f00a0a"><circle cx="248.90" cy="240.60" r="1.0"/><circle cx="248.90" cy="237.85" r="1.0"/><circle cx="248.90" cy="205.40" r="1.0"/><circle cx="258.70" cy="222.23" r="1.0"/><circle cx="252.01" cy="216.37" r="1.0"/><circle cx="257.30" cy="222.18" r="1.0"/><circle cx="244.70" cy="211.92" r="1.0"/><circle cx="250.30" cy="206.41" r="1.0"/><circle cx="248.90" cy="207.77" r="1.0"/><circle cx="254.50" cy="218.25" r="1.0"/><circle cx="251.70" cy="213.76" r="1.0"/><circle cx="243.30" cy="216.66" r="1.0"/><circle cx="255.20" cy="216.75" r="1.0"/><circle cx="247.50" cy="209.99" r="1.0"/><circle cx="251.00" cy="223.39" r="1.0"/><circle cx="243.30" cy="212.29" r="1.0"/><circle cx="245.40" cy="217.45" r="1.0"/><circle cx="251.70" cy="210.64" r="1.0"/><circle cx="257.30" cy="216.35" r="1.0"/><circle cx="256.60" cy="220.37" r="1.0"/><circle cx="246.80" cy="215.93" r="1.0"/><circle cx="242.60" cy="213.78" r="1.0"/><circle cx="250.30" cy="217.06" r="1.0"/><circle cx="244.00" cy="214.94" r="1.0"/><circle cx="244.00" cy="219.66" r="1.0"/><circle cx="248.90" cy="227.20" r="1.0"/><circle cx="250.30" cy="213.02" r="1.0"/><circle cx="248.20" cy="213.96" r="1.0"/><circle cx="253.80" cy="216.53" r="1.0"/><circle cx="241.90" cy="216.91" r="1.0"/><circle cx="241.90" cy="212.38" r="1.0"/><circle cx="250.43" cy="219.36" r="1.0"/><circle cx="251.70" cy="220.53" r="1.0"/><circle cx="244.00" cy="218.11" r="1.0"/><circle cx="253.10" cy="211.67" r="1.0"/><circle cx="252.40" cy="223.71" r="1.0"/><circle cx="246.10" cy="211.65" r="1.0"/><circle cx="248.90" cy="220.21" r="1.0"/><circle cx="249.60" cy="222.37" r="1.0"/><circle cx="248.90" cy="211.33" r="1.0"/><circle cx="239.64" cy="217.68" r="1.0"/><circle cx="248.20" cy="223.30" r="1.0"/><circle cx="246.80" cy="218.90" r="1.0"/><circle cx="246.80" cy="212.87" r="1.0"/><circle cx="247.50" cy="211.65" r="1.0"/><circle cx="237.00" cy="219.22" r="1.0"/><circle cx="242.60" cy="215.33" r="1.0"/><circle cx="255.90" cy="213.89" r="1.0"/><circle cx="247.50" cy="220.24" r="1.0"/><circle cx="237.70" cy="215.57" r="1.0"/><circle cx="247.18" cy="217.37" r="1.0"/><circle cx="255.20" cy="219.73" r="1.0"/><circle cx="253.80" cy="219.53" r="1.0"/><circle cx="240.50" cy="216.91" r="1.0"/><circle cx="260.10" cy="217.09" r="1.0"/><circle cx="242.60" cy="219.87" r="1.0"/><circle cx="239.80" cy="219.22" r="1.0"/><circle cx="254.50" cy="212.02" r="1.0"/><circle cx="244.70" cy="216.23" r="1.0"/><circle cx="253.10" cy="213.09" r="1.0"/><circle cx="250.30" cy="211.61" r="1.0"/><circle cx="246.80" cy="214.47" r="1.0"/><circle cx="247.50" cy="206.61" r="1.0"/><circle cx="250.30" cy="221.08" r="1.0"/><circle cx="245.40" cy="213.45" r="1.0"/><circle cx="248.20" cy="218.71" r="1.0"/><circle cx="247.50" cy="208.55" r="1.0"/><circle cx="248.90" cy="209.28" r="1.0"/><circle cx="247.50" cy="226.36" r="1.0"/><circle cx="255.90" cy="221.75" r="1.0"/><circle cx="241.20" cy="214.12" r="1.0"/><circle cx="244.00" cy="213.53" r="1.0"/><circle cx="254.50" cy="213.78" r="1.0"/><circle cx="257.63" cy="217.56" r="1.0"/><circle cx="258.70" cy="215.10" r="1.0"/><circle cx="257.30" cy="214.17" r="1.0"/><circle cx="246.26" cy="217.59" r="1.0"/><circle cx="240.50" cy="212.42" r="1.0"/><circle cx="247.50" cy="227.79" r="1.0"/><circle cx="249.60" cy="214.26" r="1.0"/><circle cx="251.70" cy="222.06" r="1.0"/><circle cx="239.10" cy="212.74" r="1.0"/><circle cx="241.20" cy="218.29" r="1.0"/><circle cx="244.70" cy="221.38" r="1.0"/><circle cx="255.90" cy="215.48" r="1.0"/><circle cx="248.20" cy="221.49" r="1.0"/><circle cx="243.30" cy="221.49" r="1.0"/><circle cx="245.40" cy="224.55" r="1.0"/><circle cx="246.80" cy="217.35" r="1.0"/><circle cx="245.40" cy="214.90" r="1.0"/><circle cx="258.70" cy="212.44" r="1.0"/><circle cx="251.70" cy="217.89" r="1.0"/><circle cx="255.90" cy="212.33" r="1.0"/><circle cx="237.70" cy="217.14" r="1.0"/><circle cx="249.16" cy="217.66" r="1.0"/><circle cx="253.10" cy="214.54" r="1.0"/><circle cx="251.70" cy="212.28" r="1.0"/><circle cx="260.80" cy="218.82" r="1.0"/><circle cx="259.40" cy="218.36" r="1.0"/><circle cx="253.10" cy="217.98" r="1.0"/><circle cx="248.20" cy="216.84" r="1.0"/><circle cx="254.50" cy="221.43" r="1.0"/><circle cx="257.30" cy="212.42" r="1.0"/><circle cx="257.30" cy="219.10" r="1.0"/><circle cx="251.00" cy="215.06" r="1.0"/><circle cx="253.10" cy="221.08" r="1.0"/><circle cx="260.10" cy="215.55" r="1.0"/><circle cx="248.20" cy="215.39" r="1.0"/><circle cx="252.40" cy="219.19" r="1.0"/><circle cx="251.00" cy="207.78" r="1.0"/><circle cx="239.10" cy="215.49" r="1.0"/><circle cx="246.10" cy="208.92" r="1.0"/><circle cx="248.90" cy="212.74" r="1.0"/><circle cx="246.10" cy="220.32" r="1.0"/><circle cx="245.40" cy="219.01" r="1.0"/><circle cx="254.50" cy="215.19" r="1.0"/><circle cx="258.70" cy="216.94" r="1.0"/><circle cx="239.10" cy="216.99" r="1.0"/><circle cx="250.30" cy="218.56" r="1.0"/><circle cx="250.30" cy="225.68" r="1.0"/><circle cx="255.90" cy="218.28" r="1.0"/><circle cx="250.30" cy="227.59" r="1.0"/><circle cx="240.50" cy="215.49" r="1.0"/><circle cx="258.00" cy="220.62" r="1.0"/><circle cx="241.20" cy="220.57" r="1.0"/><circle cx="242.60" cy="218.25" r="1.0"/><circle cx="252.40" cy="215.95" r="1.0"/><circle cx="249.60" cy="223.92" r="1.0"/><circle cx="248.90" cy="225.40" r="1.0"/><circle cx="240.50" cy="222.21" r="1.0"/><circle cx="251.70" cy="226.77" r="1.0"/><circle cx="246.80" cy="221.75" r="1.0"/><circle cx="250.30" cy="209.79" r="1.0"/><circle cx="241.90" cy="222.16" r="1.0"/><circle cx="239.80" cy="214.18" r="1.0"/><circle cx="246.80" cy="223.64" r="1.0"/><circle cx="249.60" cy="215.83" r="1.0"/><circle cx="238.40" cy="218.72" r="1.0"/></g>
<line x1="200.40" y1="231.80" x2="224.80" y2="231.80" stroke="#444" stroke-width="1.1"/>
<line x1="206.70" y1="221.35" x2="218.50" y2="221.35" stroke="#444" stroke-width="1.1"/>
<line x1="206.70" y1="242.25" x2="218.50" y2="242.25" stroke="#444" stroke-width="1.1"/>
<line x1="236.90" y1="217.50" x2="260.90" y2="217.50" stroke="#444" stroke-width="1.1"/>
<line x1="243.00" y1="212.00" x2="254.80" y2="212.00" stroke="#444" stroke-width="1.1"/>
<line x1="243.00" y1="223.00" x2="254.80" y2="223.00" stroke="#444" stroke-width="1.1"/>
<text x="212.8" y="267.9" class="b" style="font-size:5.9px;font-weight:bold;" fill="#111" text-anchor="middle">NPM1-</text>
<text x="212.8" y="274.4" class="b" style="font-size:5.9px;font-weight:bold;" fill="#111" text-anchor="middle">unmutated</text>
<text x="212.8" y="280.90" class="b" text-anchor="middle" style="font-size:5.9px;font-weight:bold" fill="#111">(<tspan style="font-style:italic">n</tspan>=113)</text>
<text x="249.2" y="267.9" class="b" style="font-size:5.9px;font-weight:bold;" fill="#111" text-anchor="middle">NPM1-</text>
<text x="249.2" y="274.4" class="b" style="font-size:5.9px;font-weight:bold;" fill="#111" text-anchor="middle">mutated</text>
<text x="249.2" y="280.90" class="b" text-anchor="middle" style="font-size:5.9px;font-weight:bold" fill="#111">(<tspan style="font-style:italic">n</tspan>=138)</text>
<path d="M211.80,189.50V186.20H250.00V189.50" fill="none" stroke="#1a1a1a" stroke-width="0.8"/>
<text x="217.2" y="183.4" class="b" style="font-size:5.8px;font-weight:bold" fill="#111"><tspan style="font-style:italic">P</tspan> &lt; 0.0001</text>
<path d="M319.70,173.40V256.30H404.80" fill="none" stroke="#1a1a1a" stroke-width="0.85"/>
<line x1="316.30" y1="237.17" x2="319.70" y2="237.17" stroke="#1a1a1a" stroke-width="0.85"/>
<line x1="316.30" y1="205.28" x2="319.70" y2="205.28" stroke="#1a1a1a" stroke-width="0.85"/>
<line x1="316.30" y1="173.40" x2="319.70" y2="173.40" stroke="#1a1a1a" stroke-width="0.85"/>
<text x="308.5" y="175.5" class="b" style="font-size:5.9px;font-weight:bold;" fill="#111">15</text>
<text x="308.5" y="207.3846153846154" class="b" style="font-size:5.9px;font-weight:bold;" fill="#111">10</text>
<text x="311.8" y="239.26923076923077" class="b" style="font-size:5.9px;font-weight:bold;" fill="#111">5</text>
<line x1="343.20" y1="256.30" x2="343.20" y2="258.80" stroke="#1a1a1a" stroke-width="0.85"/>
<line x1="379.70" y1="256.30" x2="379.70" y2="258.80" stroke="#1a1a1a" stroke-width="0.85"/>
<text x="306.3" y="250.9" class="b" style="font-size:6.5px;font-weight:bold;" fill="#111" textLength="63.6" lengthAdjust="spacingAndGlyphs" transform="rotate(-90 306.3 250.9)">Relative TUSC1 level</text>
<g fill="#0a14f0"><circle cx="343.20" cy="211.02" r="1.0"/><circle cx="343.20" cy="212.30" r="1.0"/><circle cx="334.20" cy="246.18" r="1.0"/><circle cx="347.40" cy="242.77" r="1.0"/><circle cx="343.20" cy="249.89" r="1.0"/><circle cx="346.20" cy="246.66" r="1.0"/><circle cx="349.20" cy="244.41" r="1.0"/><circle cx="335.39" cy="246.77" r="1.0"/><circle cx="335.32" cy="247.61" r="1.0"/><circle cx="333.00" cy="246.61" r="1.0"/><circle cx="344.40" cy="248.74" r="1.0"/><circle cx="336.00" cy="245.87" r="1.0"/><circle cx="345.00" cy="241.43" r="1.0"/><circle cx="339.60" cy="243.91" r="1.0"/><circle cx="338.40" cy="248.22" r="1.0"/><circle cx="346.80" cy="247.77" r="1.0"/><circle cx="337.20" cy="246.87" r="1.0"/><circle cx="337.80" cy="244.18" r="1.0"/><circle cx="341.40" cy="247.67" r="1.0"/><circle cx="345.00" cy="247.42" r="1.0"/><circle cx="346.80" cy="244.40" r="1.0"/><circle cx="351.00" cy="244.44" r="1.0"/><circle cx="348.00" cy="246.81" r="1.0"/><circle cx="336.60" cy="248.24" r="1.0"/><circle cx="346.20" cy="249.06" r="1.0"/><circle cx="334.20" cy="247.43" r="1.0"/><circle cx="345.00" cy="249.92" r="1.0"/><circle cx="352.80" cy="244.66" r="1.0"/><circle cx="343.20" cy="247.30" r="1.0"/><circle cx="343.80" cy="245.18" r="1.0"/><circle cx="343.80" cy="242.52" r="1.0"/><circle cx="343.80" cy="243.85" r="1.0"/><circle cx="343.17" cy="248.30" r="1.0"/><circle cx="336.00" cy="244.43" r="1.0"/><circle cx="341.40" cy="243.88" r="1.0"/><circle cx="342.78" cy="247.52" r="1.0"/><circle cx="333.00" cy="247.92" r="1.0"/><circle cx="344.40" cy="246.31" r="1.0"/><circle cx="340.20" cy="249.16" r="1.0"/><circle cx="342.60" cy="243.28" r="1.0"/><circle cx="347.40" cy="249.92" r="1.0"/><circle cx="348.00" cy="248.21" r="1.0"/><circle cx="339.06" cy="246.61" r="1.0"/><circle cx="340.80" cy="246.53" r="1.0"/><circle cx="349.20" cy="245.78" r="1.0"/><circle cx="339.60" cy="245.58" r="1.0"/><circle cx="351.12" cy="246.51" r="1.0"/><circle cx="348.00" cy="243.92" r="1.0"/><circle cx="339.00" cy="249.92" r="1.0"/><circle cx="351.00" cy="246.10" r="1.0"/><circle cx="351.30" cy="247.46" r="1.0"/><circle cx="342.60" cy="245.84" r="1.0"/><circle cx="337.80" cy="245.67" r="1.0"/><circle cx="339.60" cy="247.84" r="1.0"/><circle cx="349.20" cy="247.32" r="1.0"/><circle cx="342.60" cy="244.58" r="1.0"/><circle cx="341.40" cy="245.43" r="1.0"/><circle cx="353.40" cy="247.40" r="1.0"/><circle cx="346.20" cy="242.19" r="1.0"/><circle cx="342.00" cy="241.68" r="1.0"/><circle cx="342.00" cy="248.89" r="1.0"/><circle cx="345.60" cy="245.52" r="1.0"/><circle cx="343.20" cy="241.30" r="1.0"/><circle cx="334.20" cy="244.60" r="1.0"/><circle cx="347.40" cy="245.67" r="1.0"/><circle cx="352.20" cy="246.49" r="1.0"/><circle cx="345.60" cy="229.54" r="1.0"/><circle cx="345.00" cy="226.81" r="1.0"/><circle cx="343.20" cy="229.62" r="1.0"/><circle cx="345.00" cy="218.88" r="1.0"/><circle cx="343.20" cy="228.35" r="1.0"/><circle cx="344.40" cy="228.71" r="1.0"/><circle cx="343.80" cy="235.02" r="1.0"/><circle cx="340.80" cy="225.46" r="1.0"/><circle cx="343.20" cy="232.47" r="1.0"/><circle cx="343.20" cy="226.55" r="1.0"/><circle cx="346.20" cy="216.42" r="1.0"/><circle cx="343.20" cy="222.02" r="1.0"/><circle cx="342.60" cy="220.87" r="1.0"/><circle cx="345.00" cy="222.10" r="1.0"/><circle cx="342.00" cy="224.56" r="1.0"/><circle cx="342.00" cy="226.11" r="1.0"/><circle cx="342.00" cy="227.60" r="1.0"/><circle cx="343.20" cy="218.76" r="1.0"/><circle cx="345.00" cy="234.04" r="1.0"/><circle cx="343.20" cy="213.94" r="1.0"/><circle cx="346.20" cy="224.77" r="1.0"/><circle cx="340.80" cy="231.26" r="1.0"/><circle cx="342.00" cy="229.11" r="1.0"/><circle cx="342.00" cy="230.67" r="1.0"/><circle cx="343.20" cy="223.72" r="1.0"/><circle cx="345.60" cy="231.00" r="1.0"/><circle cx="343.20" cy="215.58" r="1.0"/><circle cx="344.40" cy="231.53" r="1.0"/><circle cx="345.60" cy="243.89" r="1.0"/><circle cx="343.20" cy="231.11" r="1.0"/><circle cx="340.20" cy="241.70" r="1.0"/><circle cx="344.40" cy="225.38" r="1.0"/><circle cx="344.40" cy="216.27" r="1.0"/><circle cx="342.00" cy="219.68" r="1.0"/><circle cx="343.20" cy="236.14" r="1.0"/><circle cx="346.80" cy="231.37" r="1.0"/><circle cx="341.40" cy="211.02" r="1.0"/><circle cx="346.80" cy="222.41" r="1.0"/><circle cx="343.20" cy="225.02" r="1.0"/><circle cx="342.00" cy="216.30" r="1.0"/><circle cx="345.00" cy="211.02" r="1.0"/><circle cx="344.40" cy="214.30" r="1.0"/><circle cx="345.00" cy="223.90" r="1.0"/><circle cx="341.40" cy="222.11" r="1.0"/><circle cx="343.80" cy="219.94" r="1.0"/><circle cx="344.40" cy="230.13" r="1.0"/><circle cx="343.20" cy="233.83" r="1.0"/></g>
<g fill="#f00a0a"><circle cx="379.70" cy="216.13" r="1.0"/><circle cx="379.70" cy="218.68" r="1.0"/><circle cx="371.77" cy="246.71" r="1.0"/><circle cx="371.45" cy="245.63" r="1.0"/><circle cx="382.28" cy="244.55" r="1.0"/><circle cx="386.46" cy="247.29" r="1.0"/><circle cx="370.90" cy="247.88" r="1.0"/><circle cx="380.25" cy="249.35" r="1.0"/><circle cx="377.50" cy="248.07" r="1.0"/><circle cx="373.10" cy="245.46" r="1.0"/><circle cx="375.30" cy="246.33" r="1.0"/><circle cx="383.83" cy="248.23" r="1.0"/><circle cx="386.30" cy="247.08" r="1.0"/><circle cx="382.99" cy="246.36" r="1.0"/><circle cx="386.85" cy="245.52" r="1.0"/><circle cx="386.41" cy="247.48" r="1.0"/><circle cx="375.89" cy="246.86" r="1.0"/><circle cx="373.65" cy="249.66" r="1.0"/><circle cx="372.55" cy="248.47" r="1.0"/><circle cx="380.80" cy="243.53" r="1.0"/><circle cx="381.90" cy="249.92" r="1.0"/><circle cx="374.98" cy="247.02" r="1.0"/><circle cx="379.67" cy="246.02" r="1.0"/><circle cx="385.81" cy="247.08" r="1.0"/><circle cx="380.25" cy="247.86" r="1.0"/><circle cx="384.65" cy="246.52" r="1.0"/><circle cx="387.95" cy="246.42" r="1.0"/><circle cx="376.65" cy="246.56" r="1.0"/><circle cx="385.75" cy="249.77" r="1.0"/><circle cx="387.92" cy="246.68" r="1.0"/><circle cx="373.85" cy="247.94" r="1.0"/><circle cx="375.34" cy="247.39" r="1.0"/><circle cx="385.75" cy="246.01" r="1.0"/><circle cx="383.78" cy="245.27" r="1.0"/><circle cx="390.15" cy="244.81" r="1.0"/><circle cx="384.87" cy="247.30" r="1.0"/><circle cx="387.84" cy="244.77" r="1.0"/><circle cx="389.05" cy="244.32" r="1.0"/><circle cx="369.25" cy="244.39" r="1.0"/><circle cx="382.45" cy="243.93" r="1.0"/><circle cx="371.87" cy="246.68" r="1.0"/><circle cx="376.80" cy="246.73" r="1.0"/><circle cx="376.95" cy="244.94" r="1.0"/><circle cx="381.35" cy="248.86" r="1.0"/><circle cx="373.82" cy="246.04" r="1.0"/><circle cx="372.01" cy="247.36" r="1.0"/><circle cx="376.82" cy="247.07" r="1.0"/><circle cx="377.50" cy="249.53" r="1.0"/><circle cx="382.29" cy="248.01" r="1.0"/><circle cx="390.15" cy="246.45" r="1.0"/><circle cx="385.41" cy="244.83" r="1.0"/><circle cx="378.60" cy="244.65" r="1.0"/><circle cx="372.55" cy="246.56" r="1.0"/><circle cx="379.59" cy="246.75" r="1.0"/><circle cx="382.74" cy="247.90" r="1.0"/><circle cx="377.27" cy="245.70" r="1.0"/><circle cx="371.68" cy="246.86" r="1.0"/><circle cx="383.44" cy="245.33" r="1.0"/><circle cx="378.60" cy="243.29" r="1.0"/><circle cx="387.96" cy="246.47" r="1.0"/><circle cx="374.75" cy="249.09" r="1.0"/><circle cx="376.98" cy="247.95" r="1.0"/><circle cx="376.40" cy="249.02" r="1.0"/><circle cx="385.75" cy="248.55" r="1.0"/><circle cx="379.70" cy="244.09" r="1.0"/><circle cx="381.02" cy="246.01" r="1.0"/><circle cx="383.00" cy="249.13" r="1.0"/><circle cx="380.34" cy="245.25" r="1.0"/><circle cx="374.20" cy="244.17" r="1.0"/><circle cx="384.18" cy="247.06" r="1.0"/><circle cx="387.51" cy="247.62" r="1.0"/><circle cx="378.05" cy="247.02" r="1.0"/><circle cx="389.05" cy="245.91" r="1.0"/><circle cx="382.60" cy="245.27" r="1.0"/><circle cx="370.90" cy="244.30" r="1.0"/><circle cx="385.75" cy="244.25" r="1.0"/><circle cx="387.40" cy="244.30" r="1.0"/><circle cx="384.10" cy="243.98" r="1.0"/><circle cx="379.45" cy="245.23" r="1.0"/><circle cx="384.65" cy="249.15" r="1.0"/><circle cx="382.23" cy="246.65" r="1.0"/><circle cx="381.96" cy="245.86" r="1.0"/><circle cx="372.15" cy="247.10" r="1.0"/><circle cx="370.40" cy="244.79" r="1.0"/><circle cx="389.91" cy="247.06" r="1.0"/><circle cx="375.54" cy="248.07" r="1.0"/><circle cx="377.50" cy="243.84" r="1.0"/><circle cx="375.96" cy="245.23" r="1.0"/><circle cx="369.57" cy="246.02" r="1.0"/><circle cx="388.56" cy="244.76" r="1.0"/><circle cx="380.59" cy="244.52" r="1.0"/><circle cx="383.42" cy="245.81" r="1.0"/><circle cx="379.15" cy="249.92" r="1.0"/><circle cx="382.04" cy="247.62" r="1.0"/><circle cx="373.65" cy="247.23" r="1.0"/><circle cx="369.67" cy="248.17" r="1.0"/><circle cx="377.30" cy="246.06" r="1.0"/><circle cx="372.55" cy="244.29" r="1.0"/><circle cx="378.29" cy="247.28" r="1.0"/><circle cx="379.15" cy="248.44" r="1.0"/><circle cx="379.70" cy="242.79" r="1.0"/><circle cx="369.80" cy="247.22" r="1.0"/><circle cx="378.51" cy="248.62" r="1.0"/><circle cx="378.85" cy="245.99" r="1.0"/><circle cx="369.25" cy="245.66" r="1.0"/><circle cx="389.87" cy="247.67" r="1.0"/><circle cx="374.69" cy="245.00" r="1.0"/><circle cx="375.25" cy="247.29" r="1.0"/><circle cx="388.65" cy="248.06" r="1.0"/><circle cx="370.75" cy="246.10" r="1.0"/><circle cx="377.17" cy="245.04" r="1.0"/><circle cx="390.04" cy="247.55" r="1.0"/><circle cx="376.45" cy="245.83" r="1.0"/><circle cx="371.41" cy="246.58" r="1.0"/><circle cx="379.70" cy="241.37" r="1.0"/><circle cx="384.75" cy="247.68" r="1.0"/><circle cx="375.85" cy="243.94" r="1.0"/><circle cx="379.70" cy="235.69" r="1.0"/><circle cx="380.80" cy="236.31" r="1.0"/><circle cx="379.70" cy="229.27" r="1.0"/><circle cx="379.70" cy="227.84" r="1.0"/><circle cx="380.25" cy="224.75" r="1.0"/><circle cx="379.15" cy="232.53" r="1.0"/><circle cx="380.80" cy="240.23" r="1.0"/><circle cx="379.70" cy="239.71" r="1.0"/><circle cx="379.15" cy="231.03" r="1.0"/><circle cx="380.25" cy="230.44" r="1.0"/><circle cx="379.70" cy="223.67" r="1.0"/><circle cx="380.25" cy="231.79" r="1.0"/><circle cx="379.70" cy="226.47" r="1.0"/><circle cx="380.80" cy="222.68" r="1.0"/><circle cx="379.70" cy="233.89" r="1.0"/><circle cx="383.00" cy="247.57" r="1.0"/><circle cx="383.84" cy="245.03" r="1.0"/><circle cx="381.38" cy="247.18" r="1.0"/><circle cx="379.70" cy="222.06" r="1.0"/><circle cx="380.80" cy="242.28" r="1.0"/><circle cx="378.60" cy="225.04" r="1.0"/></g>
<line x1="331.20" y1="235.89" x2="355.20" y2="235.89" stroke="#444" stroke-width="1.1"/>
<line x1="337.40" y1="224.42" x2="349.00" y2="224.42" stroke="#444" stroke-width="1.1"/>
<line x1="367.70" y1="242.91" x2="391.70" y2="242.91" stroke="#444" stroke-width="1.1"/>
<line x1="373.90" y1="235.26" x2="385.50" y2="235.26" stroke="#444" stroke-width="1.1"/>
<line x1="373.90" y1="249.92" x2="385.50" y2="249.92" stroke="#444" stroke-width="1.1"/>
<text x="344.8" y="266.6" class="b" style="font-size:5.9px;font-weight:bold;" fill="#111" text-anchor="middle">NPM1-</text>
<text x="344.8" y="273.20000000000005" class="b" style="font-size:5.9px;font-weight:bold;" fill="#111" text-anchor="middle">unmutated</text>
<text x="344.8" y="279.80" class="b" text-anchor="middle" style="font-size:5.9px;font-weight:bold" fill="#111">(<tspan style="font-style:italic">n</tspan>=113)</text>
<text x="380.9" y="266.6" class="b" style="font-size:5.9px;font-weight:bold;" fill="#111" text-anchor="middle">NPM1-</text>
<text x="380.9" y="273.20000000000005" class="b" style="font-size:5.9px;font-weight:bold;" fill="#111" text-anchor="middle">mutated</text>
<text x="380.9" y="279.80" class="b" text-anchor="middle" style="font-size:5.9px;font-weight:bold" fill="#111">(<tspan style="font-style:italic">n</tspan>=138)</text>
<path d="M342.20,188.80V185.50H379.90V188.80" fill="none" stroke="#1a1a1a" stroke-width="0.8"/>
<text x="347.4" y="183.2" class="b" style="font-size:5.8px;font-weight:bold" fill="#111"><tspan style="font-style:italic">P</tspan> &lt; 0.0001</text>
<line x1="87.20" y1="311.70" x2="87.20" y2="359.20" stroke="#ebebeb" stroke-width="0.4"/>
<line x1="87.20" y1="376.40" x2="87.20" y2="402.50" stroke="#f3f3f3" stroke-width="0.35"/>
<line x1="130.80" y1="311.70" x2="130.80" y2="359.20" stroke="#ebebeb" stroke-width="0.4"/>
<line x1="130.80" y1="376.40" x2="130.80" y2="402.50" stroke="#f3f3f3" stroke-width="0.35"/>
<line x1="171.90" y1="311.70" x2="171.90" y2="359.20" stroke="#ebebeb" stroke-width="0.4"/>
<line x1="171.90" y1="376.40" x2="171.90" y2="402.50" stroke="#f3f3f3" stroke-width="0.35"/>
<line x1="66.20" y1="311.70" x2="66.20" y2="359.20" stroke="#ebebeb" stroke-width="0.4"/>
<line x1="109.20" y1="311.70" x2="109.20" y2="359.20" stroke="#ebebeb" stroke-width="0.4"/>
<line x1="151.50" y1="311.70" x2="151.50" y2="359.20" stroke="#ebebeb" stroke-width="0.4"/>
<line x1="46.40" y1="359.50" x2="46.40" y2="370.80" stroke="#7a7a7a" stroke-width="0.55"/><line x1="47.80" y1="359.50" x2="47.80" y2="370.80" stroke="#262626" stroke-width="0.55"/><line x1="51.30" y1="359.50" x2="51.30" y2="370.80" stroke="#b0b0b0" stroke-width="0.55"/><line x1="52.70" y1="359.50" x2="52.70" y2="370.80" stroke="#262626" stroke-width="0.55"/><line x1="58.40" y1="359.50" x2="58.40" y2="370.80" stroke="#7a7a7a" stroke-width="0.55"/><line x1="63.30" y1="359.50" x2="63.30" y2="370.80" stroke="#9a9a9a" stroke-width="0.55"/><line x1="67.60" y1="359.50" x2="67.60" y2="370.80" stroke="#b0b0b0" stroke-width="0.55"/><line x1="69.00" y1="359.50" x2="69.00" y2="370.80" stroke="#8a8a8a" stroke-width="0.55"/><line x1="75.40" y1="359.50" x2="75.40" y2="370.80" stroke="#262626" stroke-width="0.55"/><line x1="77.10" y1="359.50" x2="77.10" y2="370.80" stroke="#262626" stroke-width="0.55"/><line x1="78.90" y1="359.50" x2="78.90" y2="370.80" stroke="#b0b0b0" stroke-width="0.55"/><line x1="81.00" y1="359.50" x2="81.00" y2="370.80" stroke="#8a8a8a" stroke-width="0.55"/><line x1="82.50" y1="359.50" x2="82.50" y2="370.80" stroke="#262626" stroke-width="0.55"/><line x1="83.90" y1="359.50" x2="83.90" y2="370.80" stroke="#9a9a9a" stroke-width="0.55"/><line x1="88.80" y1="359.50" x2="88.80" y2="370.80" stroke="#b0b0b0" stroke-width="0.55"/><line x1="90.20" y1="359.50" x2="90.20" y2="370.80" stroke="#8a8a8a" stroke-width="0.55"/><line x1="97.30" y1="359.50" x2="97.30" y2="370.80" stroke="#7a7a7a" stroke-width="0.55"/><line x1="98.50" y1="359.50" x2="98.50" y2="370.80" stroke="#9a9a9a" stroke-width="0.55"/><line x1="108.40" y1="359.50" x2="108.40" y2="370.80" stroke="#b0b0b0" stroke-width="0.55"/><line x1="113.10" y1="359.50" x2="113.10" y2="370.80" stroke="#262626" stroke-width="0.55"/><line x1="114.80" y1="359.50" x2="114.80" y2="370.80" stroke="#7a7a7a" stroke-width="0.55"/><line x1="116.20" y1="359.50" x2="116.20" y2="370.80" stroke="#262626" stroke-width="0.55"/><line x1="119.10" y1="359.50" x2="119.10" y2="370.80" stroke="#b0b0b0" stroke-width="0.55"/><line x1="123.30" y1="359.50" x2="123.30" y2="370.80" stroke="#262626" stroke-width="0.55"/><line x1="124.70" y1="359.50" x2="124.70" y2="370.80" stroke="#7a7a7a" stroke-width="0.55"/><line x1="131.80" y1="359.50" x2="131.80" y2="370.80" stroke="#9a9a9a" stroke-width="0.55"/><line x1="136.00" y1="359.50" x2="136.00" y2="370.80" stroke="#b0b0b0" stroke-width="0.55"/><line x1="137.50" y1="359.50" x2="137.50" y2="370.80" stroke="#8a8a8a" stroke-width="0.55"/><line x1="143.10" y1="359.50" x2="143.10" y2="370.80" stroke="#7a7a7a" stroke-width="0.55"/><line x1="149.50" y1="359.50" x2="149.50" y2="370.80" stroke="#9a9a9a" stroke-width="0.55"/><line x1="159.90" y1="359.50" x2="159.90" y2="370.80" stroke="#b0b0b0" stroke-width="0.55"/><line x1="165.60" y1="359.50" x2="165.60" y2="370.80" stroke="#8a8a8a" stroke-width="0.55"/><line x1="170.50" y1="359.50" x2="170.50" y2="370.80" stroke="#7a7a7a" stroke-width="0.55"/><line x1="174.10" y1="359.50" x2="174.10" y2="370.80" stroke="#9a9a9a" stroke-width="0.55"/><line x1="179.00" y1="359.50" x2="179.00" y2="370.80" stroke="#b0b0b0" stroke-width="0.55"/><line x1="188.20" y1="359.50" x2="188.20" y2="370.80" stroke="#8a8a8a" stroke-width="0.55"/><line x1="196.70" y1="359.50" x2="196.70" y2="370.80" stroke="#7a7a7a" stroke-width="0.55"/>
<rect x="44.20" y="371.30" width="8.35" height="4.60" fill="#bf1b2a"/>
<rect x="52.50" y="371.30" width="23.25" height="4.60" fill="#ee3131"/>
<rect x="75.70" y="371.30" width="37.75" height="4.60" fill="#f6795c"/>
<rect x="113.40" y="371.30" width="11.25" height="4.60" fill="#f9ae94"/>
<rect x="124.60" y="371.30" width="15.75" height="4.60" fill="#fcdcd0"/>
<rect x="140.30" y="371.30" width="20.35" height="4.60" fill="#e8e9f6"/>
<rect x="160.60" y="371.30" width="12.25" height="4.60" fill="#a9cde6"/>
<rect x="172.80" y="371.30" width="24.15" height="4.60" fill="#3c9bd1"/>
<rect x="196.90" y="371.30" width="9.45" height="4.60" fill="#1b7abe"/>
<polyline points="42.90,357.50 43.77,354.33 44.65,350.71 45.52,351.12 46.40,342.00 46.40,341.55 47.10,333.04 47.80,328.38 47.80,327.48 48.67,325.55 49.55,326.13 50.42,325.77 51.30,322.65 51.30,321.75 52.00,319.52 52.70,318.17 52.70,317.27 53.51,317.88 54.33,318.49 55.14,319.16 55.96,319.84 56.77,320.51 57.59,321.18 58.40,321.85 58.40,320.95 59.22,320.92 60.03,320.90 60.85,320.88 61.67,320.85 62.48,320.82 63.30,320.79 63.30,319.89 64.16,319.88 65.02,320.05 65.88,320.77 66.74,321.49 67.60,322.21 67.60,321.31 68.30,322.20 69.00,323.08 69.00,322.18 69.80,322.78 70.60,323.39 71.40,323.99 72.20,324.59 73.00,325.20 73.80,325.80 74.60,325.14 75.40,324.05 75.40,323.15 76.25,321.29 77.10,319.44 77.10,318.54 78.00,317.70 78.90,317.79 78.90,316.89 79.95,316.92 81.00,316.95 81.00,316.05 81.75,316.38 82.50,316.71 82.50,315.81 83.20,316.14 83.90,316.48 83.90,315.58 84.72,315.59 85.53,315.62 86.35,315.65 87.17,315.68 87.98,315.72 88.80,315.75 88.80,314.85 89.50,315.20 90.20,315.55 90.20,314.65 91.09,315.28 91.97,315.91 92.86,316.54 93.75,317.17 94.64,317.42 95.53,317.65 96.41,317.88 97.30,318.10 97.30,317.20 97.90,317.73 98.50,318.26 98.50,317.36 99.33,317.59 100.15,318.06 100.97,318.54 101.80,319.02 102.62,319.50 103.45,319.98 104.28,320.47 105.10,320.96 105.93,321.46 106.75,321.95 107.58,322.45 108.40,322.94 108.40,322.04 109.34,322.68 110.28,323.17 111.22,323.66 112.16,324.16 113.10,324.65 113.10,323.75 113.95,324.50 114.80,325.27 114.80,324.37 115.50,325.07 116.20,325.78 116.20,324.88 117.17,325.54 118.13,326.19 119.10,326.85 119.10,325.95 119.94,326.55 120.78,327.15 121.62,327.75 122.46,328.35 123.30,328.95 123.30,328.05 124.00,328.85 124.70,329.65 124.70,328.75 125.59,329.31 126.48,329.89 127.36,330.52 128.25,331.14 129.14,331.77 130.03,332.40 130.91,333.02 131.80,333.65 131.80,332.75 132.64,333.05 133.48,333.35 134.32,333.65 135.16,333.95 136.00,334.25 136.00,333.35 136.75,333.92 137.50,334.74 137.50,333.84 138.43,334.44 139.37,335.04 140.30,335.64 141.23,336.25 142.17,336.85 143.10,337.45 143.10,336.55 143.90,337.06 144.70,337.56 145.50,338.07 146.30,338.57 147.10,339.08 147.90,339.58 148.70,340.09 149.50,340.67 149.50,339.77 150.30,340.31 151.10,340.85 151.90,341.40 152.70,341.91 153.50,342.41 154.30,342.92 155.10,343.42 155.90,343.92 156.70,344.43 157.50,344.93 158.30,345.41 159.10,345.88 159.90,346.35 159.90,345.45 160.71,345.99 161.53,346.52 162.34,347.06 163.16,347.59 163.97,348.13 164.79,348.64 165.60,348.92 165.60,348.02 166.42,348.32 167.23,348.62 168.05,348.92 168.87,349.23 169.68,349.74 170.50,350.30 170.50,349.40 171.40,350.07 172.30,350.75 173.20,351.43 174.10,351.01 174.10,350.11 174.92,349.96 175.73,350.28 176.55,350.59 177.37,350.90 178.18,351.22 179.00,351.53 179.00,350.63 179.84,350.97 180.67,351.53 181.51,352.09 182.35,352.65 183.18,353.21 184.02,353.77 184.85,354.36 185.69,355.00 186.53,355.64 187.36,356.28 188.20,356.84 188.20,355.94 189.05,355.96 189.90,355.98 190.75,355.99 191.60,356.01 192.45,356.45 193.30,356.89 194.15,357.34 195.00,356.64 195.85,355.15 196.70,353.69 196.70,352.79 197.50,351.43 198.30,351.64 199.10,352.07 199.90,352.48 200.70,352.89 201.50,353.28 202.30,353.89 203.10,354.49 203.90,355.08 204.70,355.66 205.50,356.23 206.30,356.74 207.10,357.20" fill="none" stroke="#40e07a" stroke-width="1.0" stroke-linejoin="miter"/>
<path d="M43.40,393.10L43.40,385.25L44.43,386.72L45.45,387.68L46.48,388.33L47.51,388.79L48.54,389.14L49.56,389.41L50.59,389.64L51.62,389.84L52.64,390.01L53.67,390.17L54.70,390.32L55.72,390.46L56.75,390.60L57.78,390.72L58.81,390.84L59.83,390.95L60.86,391.06L61.89,391.16L62.91,391.26L63.94,391.35L64.97,391.44L65.99,391.52L67.02,391.60L68.05,391.68L69.08,391.76L70.10,391.83L71.13,391.90L72.16,391.96L73.18,392.03L74.21,392.09L75.24,392.14L76.27,392.20L77.29,392.26L78.32,392.31L79.35,392.36L80.37,392.41L81.40,392.46L82.43,392.50L83.45,392.55L84.48,392.59L85.51,392.63L86.54,392.67L87.56,392.71L88.59,392.75L89.62,392.79L90.64,392.82L91.67,392.86L92.70,392.89L93.73,392.93L94.75,392.96L95.78,392.99L96.81,393.02L97.83,393.05L98.86,393.08L99.89,393.11L100.91,393.14L101.94,393.17L102.97,393.20L104.00,393.22L105.02,393.25L106.05,393.28L107.08,393.30L108.10,393.33L109.13,393.35L110.16,393.38L111.18,393.40L112.21,393.43L113.24,393.45L114.27,393.47L115.29,393.49L116.32,393.52L117.35,393.54L118.37,393.56L119.40,393.58L120.43,393.60L121.46,393.63L122.48,393.65L123.51,393.67L124.54,393.69L125.56,393.71L126.59,393.73L127.62,393.75L128.64,393.77L129.67,393.79L130.70,393.81L131.73,393.82L132.75,393.84L133.78,393.86L134.81,393.88L135.83,393.90L136.86,393.92L137.89,393.94L138.92,393.95L139.94,393.97L140.97,393.99L142.00,394.01L143.02,394.03L144.05,394.04L145.08,394.06L146.10,394.08L147.13,394.10L148.16,394.11L149.19,394.13L150.21,394.15L151.24,394.16L152.27,394.18L153.29,394.20L154.32,394.21L155.35,394.23L156.37,394.25L157.40,394.26L158.43,394.28L159.46,394.29L160.48,394.31L161.51,394.33L162.54,394.34L163.56,394.36L164.59,394.37L165.62,394.39L166.65,394.41L167.67,394.42L168.70,394.44L169.73,394.45L170.75,394.47L171.78,394.48L172.81,394.50L173.83,394.51L174.86,394.53L175.89,394.55L176.92,394.56L177.94,394.58L178.97,394.59L180.00,394.61L181.02,394.63L182.05,394.64L183.08,394.66L184.11,394.68L185.13,394.70L186.16,394.72L187.19,394.74L188.21,394.77L189.24,394.79L190.27,394.82L191.29,394.86L192.32,394.90L193.35,394.95L194.38,395.01L195.40,395.09L196.43,395.18L197.46,395.29L198.48,395.43L199.51,395.60L200.54,395.83L201.56,396.11L202.59,396.47L203.62,396.92L204.65,397.50L205.67,398.25L206.70,399.20L206.70,393.10Z" fill="#cfcfcf" stroke="#a5a5a5" stroke-width="0.3"/>
<line x1="42.60" y1="393.10" x2="207.50" y2="393.10" stroke="#b0b0b0" stroke-width="0.3"/>
<rect x="42.60" y="311.20" width="164.90" height="91.70" fill="none" stroke="#222" stroke-width="0.9"/>
<line x1="41.30" y1="323.90" x2="42.60" y2="323.90" stroke="#333" stroke-width="0.4"/>
<text x="35.8" y="325.25" class="s" style="font-size:3.8px;font-weight:normal;" fill="#111">0.3</text>
<line x1="41.30" y1="335.30" x2="42.60" y2="335.30" stroke="#333" stroke-width="0.4"/>
<text x="35.8" y="336.65000000000003" class="s" style="font-size:3.8px;font-weight:normal;" fill="#111">0.2</text>
<line x1="41.30" y1="346.80" x2="42.60" y2="346.80" stroke="#333" stroke-width="0.4"/>
<text x="35.8" y="348.15000000000003" class="s" style="font-size:3.8px;font-weight:normal;" fill="#111">0.1</text>
<line x1="41.30" y1="358.20" x2="42.60" y2="358.20" stroke="#333" stroke-width="0.4"/>
<text x="35.8" y="359.55" class="s" style="font-size:3.8px;font-weight:normal;" fill="#111">0.0</text>
<line x1="41.30" y1="381.02" x2="42.60" y2="381.02" stroke="#333" stroke-width="0.4"/>
<text x="41.3" y="382.37000000000006" class="s" style="font-size:3.8px;font-weight:normal;" fill="#111" text-anchor="end">4</text>
<line x1="41.30" y1="387.06" x2="42.60" y2="387.06" stroke="#333" stroke-width="0.4"/>
<text x="41.3" y="388.41" class="s" style="font-size:3.8px;font-weight:normal;" fill="#111" text-anchor="end">2</text>
<line x1="41.30" y1="393.10" x2="42.60" y2="393.10" stroke="#333" stroke-width="0.4"/>
<text x="41.3" y="394.45000000000005" class="s" style="font-size:3.8px;font-weight:normal;" fill="#111" text-anchor="end">0</text>
<line x1="41.30" y1="399.14" x2="42.60" y2="399.14" stroke="#333" stroke-width="0.4"/>
<text x="41.3" y="400.49000000000007" class="s" style="font-size:3.8px;font-weight:normal;" fill="#111" text-anchor="end">−2</text>
<line x1="87.20" y1="402.90" x2="87.20" y2="404.20" stroke="#333" stroke-width="0.4"/>
<text x="87.2" y="408.1" class="s" style="font-size:4.0px;font-weight:normal;" fill="#111" text-anchor="middle">2500</text>
<line x1="130.80" y1="402.90" x2="130.80" y2="404.20" stroke="#333" stroke-width="0.4"/>
<text x="130.8" y="408.1" class="s" style="font-size:4.0px;font-weight:normal;" fill="#111" text-anchor="middle">5000</text>
<line x1="171.90" y1="402.90" x2="171.90" y2="404.20" stroke="#333" stroke-width="0.4"/>
<text x="171.9" y="408.1" class="s" style="font-size:4.0px;font-weight:normal;" fill="#111" text-anchor="middle">7500</text>
<text x="107.6" y="414.2" class="s" style="font-size:4.25px;font-weight:normal;" fill="#111" textLength="45.9" lengthAdjust="spacingAndGlyphs">Rank in Ordered dataset</text>
<text x="33.7" y="359.6" class="s" style="font-size:2.8px;font-weight:normal;" fill="#222" textLength="37.5" lengthAdjust="spacingAndGlyphs" transform="rotate(-90 33.7 359.6)">Running Enrichment Score</text>
<text x="33.7" y="404.5" class="s" style="font-size:2.8px;font-weight:normal;" fill="#222" textLength="27" lengthAdjust="spacingAndGlyphs" transform="rotate(-90 33.7 404.5)">Ranked list Metric</text>
<text x="47.7" y="381.6" style="font-size:3.9px;font-weight:bold;" fill="#111" textLength="65.3" lengthAdjust="spacingAndGlyphs">high TP53INP2 VS. low TP53INP2</text>
<text x="122.2" y="320.0" style="font-size:3.9px;font-weight:bold;" fill="#111" textLength="64.1" lengthAdjust="spacingAndGlyphs">Positive regulation of autophagy</text>
<text x="138.1" y="326.3" style="font-size:3.9px;font-weight:bold" fill="#111" textLength="27.0" lengthAdjust="spacingAndGlyphs"><tspan style="font-style:italic">P</tspan> value=0.013</text>
<line x1="291.90" y1="311.60" x2="291.90" y2="360.40" stroke="#ebebeb" stroke-width="0.4"/>
<line x1="291.90" y1="377.30" x2="291.90" y2="401.90" stroke="#f3f3f3" stroke-width="0.35"/>
<line x1="335.30" y1="311.60" x2="335.30" y2="360.40" stroke="#ebebeb" stroke-width="0.4"/>
<line x1="335.30" y1="377.30" x2="335.30" y2="401.90" stroke="#f3f3f3" stroke-width="0.35"/>
<line x1="376.60" y1="311.60" x2="376.60" y2="360.40" stroke="#ebebeb" stroke-width="0.4"/>
<line x1="376.60" y1="377.30" x2="376.60" y2="401.90" stroke="#f3f3f3" stroke-width="0.35"/>
<line x1="270.00" y1="311.60" x2="270.00" y2="360.40" stroke="#ebebeb" stroke-width="0.4"/>
<line x1="313.50" y1="311.60" x2="313.50" y2="360.40" stroke="#ebebeb" stroke-width="0.4"/>
<line x1="355.00" y1="311.60" x2="355.00" y2="360.40" stroke="#ebebeb" stroke-width="0.4"/>
<line x1="251.80" y1="360.70" x2="251.80" y2="371.70" stroke="#7a7a7a" stroke-width="0.55"/><line x1="253.20" y1="360.70" x2="253.20" y2="371.70" stroke="#9a9a9a" stroke-width="0.55"/><line x1="255.30" y1="360.70" x2="255.30" y2="371.70" stroke="#b0b0b0" stroke-width="0.55"/><line x1="262.40" y1="360.70" x2="262.40" y2="371.70" stroke="#8a8a8a" stroke-width="0.55"/><line x1="263.80" y1="360.70" x2="263.80" y2="371.70" stroke="#262626" stroke-width="0.55"/><line x1="265.20" y1="360.70" x2="265.20" y2="371.70" stroke="#9a9a9a" stroke-width="0.55"/><line x1="266.60" y1="360.70" x2="266.60" y2="371.70" stroke="#262626" stroke-width="0.55"/><line x1="267.30" y1="360.70" x2="267.30" y2="371.70" stroke="#8a8a8a" stroke-width="0.55"/><line x1="270.20" y1="360.70" x2="270.20" y2="371.70" stroke="#7a7a7a" stroke-width="0.55"/><line x1="275.80" y1="360.70" x2="275.80" y2="371.70" stroke="#262626" stroke-width="0.55"/><line x1="277.30" y1="360.70" x2="277.30" y2="371.70" stroke="#b0b0b0" stroke-width="0.55"/><line x1="280.10" y1="360.70" x2="280.10" y2="371.70" stroke="#8a8a8a" stroke-width="0.55"/><line x1="284.30" y1="360.70" x2="284.30" y2="371.70" stroke="#262626" stroke-width="0.55"/><line x1="285.70" y1="360.70" x2="285.70" y2="371.70" stroke="#9a9a9a" stroke-width="0.55"/><line x1="286.50" y1="360.70" x2="286.50" y2="371.70" stroke="#262626" stroke-width="0.55"/><line x1="290.70" y1="360.70" x2="290.70" y2="371.70" stroke="#8a8a8a" stroke-width="0.55"/><line x1="294.20" y1="360.70" x2="294.20" y2="371.70" stroke="#262626" stroke-width="0.55"/><line x1="302.70" y1="360.70" x2="302.70" y2="371.70" stroke="#9a9a9a" stroke-width="0.55"/><line x1="310.60" y1="360.70" x2="310.60" y2="371.70" stroke="#b0b0b0" stroke-width="0.55"/><line x1="315.30" y1="360.70" x2="315.30" y2="371.70" stroke="#8a8a8a" stroke-width="0.55"/><line x1="317.70" y1="360.70" x2="317.70" y2="371.70" stroke="#262626" stroke-width="0.55"/><line x1="322.60" y1="360.70" x2="322.60" y2="371.70" stroke="#9a9a9a" stroke-width="0.55"/><line x1="326.90" y1="360.70" x2="326.90" y2="371.70" stroke="#b0b0b0" stroke-width="0.55"/><line x1="328.30" y1="360.70" x2="328.30" y2="371.70" stroke="#8a8a8a" stroke-width="0.55"/><line x1="333.30" y1="360.70" x2="333.30" y2="371.70" stroke="#7a7a7a" stroke-width="0.55"/><line x1="334.70" y1="360.70" x2="334.70" y2="371.70" stroke="#262626" stroke-width="0.55"/><line x1="337.50" y1="360.70" x2="337.50" y2="371.70" stroke="#b0b0b0" stroke-width="0.55"/><line x1="338.50" y1="360.70" x2="338.50" y2="371.70" stroke="#8a8a8a" stroke-width="0.55"/><line x1="341.00" y1="360.70" x2="341.00" y2="371.70" stroke="#7a7a7a" stroke-width="0.55"/><line x1="355.20" y1="360.70" x2="355.20" y2="371.70" stroke="#9a9a9a" stroke-width="0.55"/><line x1="360.10" y1="360.70" x2="360.10" y2="371.70" stroke="#b0b0b0" stroke-width="0.55"/><line x1="361.30" y1="360.70" x2="361.30" y2="371.70" stroke="#262626" stroke-width="0.55"/><line x1="363.60" y1="360.70" x2="363.60" y2="371.70" stroke="#7a7a7a" stroke-width="0.55"/><line x1="376.60" y1="360.70" x2="376.60" y2="371.70" stroke="#9a9a9a" stroke-width="0.55"/><line x1="382.50" y1="360.70" x2="382.50" y2="371.70" stroke="#b0b0b0" stroke-width="0.55"/><line x1="389.60" y1="360.70" x2="389.60" y2="371.70" stroke="#8a8a8a" stroke-width="0.55"/><line x1="393.10" y1="360.70" x2="393.10" y2="371.70" stroke="#7a7a7a" stroke-width="0.55"/>
<rect x="246.60" y="372.20" width="16.55" height="4.60" fill="#c41a24"/>
<rect x="263.10" y="372.20" width="34.05" height="4.60" fill="#ef3129"/>
<rect x="297.10" y="372.20" width="26.35" height="4.60" fill="#f6795c"/>
<rect x="323.40" y="372.20" width="17.75" height="4.60" fill="#f9a68e"/>
<rect x="341.10" y="372.20" width="24.95" height="4.60" fill="#fdddd2"/>
<rect x="366.00" y="372.20" width="7.85" height="4.60" fill="#e8eaf7"/>
<rect x="373.80" y="372.20" width="13.45" height="4.60" fill="#a8cde6"/>
<rect x="387.20" y="372.20" width="7.15" height="4.60" fill="#4ca0d3"/>
<rect x="394.30" y="372.20" width="16.05" height="4.60" fill="#1f7bbe"/>
<polyline points="246.60,357.50 247.47,352.11 248.33,352.29 249.20,351.02 250.07,345.11 250.93,343.09 251.80,342.12 251.80,341.67 252.50,341.55 253.20,341.20 253.20,340.30 254.25,338.75 255.30,336.05 255.30,335.15 256.19,333.25 257.07,333.77 257.96,334.29 258.85,334.81 259.74,335.33 260.62,335.85 261.51,336.37 262.40,336.50 262.40,335.60 263.10,335.48 263.80,335.35 263.80,334.45 264.50,334.20 265.20,333.95 265.20,333.05 265.90,332.80 266.60,330.40 266.60,329.50 266.95,328.52 267.30,327.55 267.30,326.65 268.27,327.40 269.23,326.87 270.20,324.75 270.20,323.85 271.00,324.39 271.80,324.93 272.60,325.47 273.40,326.01 274.20,325.86 275.00,325.31 275.80,324.75 275.80,323.85 276.55,324.64 277.30,325.43 277.30,324.53 278.23,324.98 279.17,324.62 280.10,324.25 280.10,323.35 280.94,323.26 281.78,323.17 282.62,323.08 283.46,322.21 284.30,320.95 284.30,320.05 285.00,319.30 285.70,318.77 285.70,317.87 286.10,317.76 286.50,317.65 286.50,316.75 287.34,317.09 288.18,317.43 289.02,317.75 289.86,318.05 290.70,318.35 290.70,317.45 291.57,317.53 292.45,317.61 293.32,317.69 294.20,317.77 294.20,316.87 295.05,316.90 295.90,317.35 296.75,317.79 297.60,318.24 298.45,318.69 299.30,319.13 300.15,319.52 301.00,319.91 301.85,320.30 302.70,320.69 302.70,319.79 303.58,320.20 304.46,320.65 305.33,321.14 306.21,321.62 307.09,322.11 307.97,322.60 308.84,323.08 309.72,323.57 310.60,323.95 310.60,323.05 311.54,323.49 312.48,323.94 313.42,324.38 314.36,324.83 315.30,325.27 315.30,324.37 316.50,325.16 317.70,325.95 317.70,325.05 318.52,325.44 319.33,325.89 320.15,326.33 320.97,326.77 321.78,327.21 322.60,327.66 322.60,326.76 323.46,327.25 324.32,327.74 325.18,328.22 326.04,328.71 326.90,329.20 326.90,328.30 327.60,329.00 328.30,329.70 328.30,328.80 329.13,329.25 329.97,329.70 330.80,330.15 331.63,330.60 332.47,331.05 333.30,331.50 333.30,330.60 334.00,331.30 334.70,331.96 334.70,331.06 335.63,331.63 336.57,332.20 337.50,332.78 337.50,331.88 338.00,332.48 338.50,333.07 338.50,332.17 339.33,332.72 340.17,333.26 341.00,333.81 341.00,332.91 341.84,333.21 342.67,333.54 343.51,333.98 344.34,334.42 345.18,334.86 346.01,335.30 346.85,335.74 347.68,336.18 348.52,336.62 349.35,337.06 350.19,337.50 351.02,337.95 351.86,338.39 352.69,338.77 353.53,339.05 354.36,339.33 355.20,339.63 355.20,338.73 356.02,339.21 356.83,339.69 357.65,340.17 358.47,340.65 359.28,341.01 360.10,340.23 360.10,339.33 360.70,339.10 361.30,339.67 361.30,338.77 362.45,339.45 363.60,340.13 363.60,339.23 364.41,339.53 365.23,340.06 366.04,340.58 366.85,341.11 367.66,341.64 368.48,342.17 369.29,342.68 370.10,343.11 370.91,343.54 371.73,343.97 372.54,344.39 373.35,344.82 374.16,345.25 374.98,345.68 375.79,346.11 376.60,346.49 376.60,345.59 377.44,346.00 378.29,346.41 379.13,346.83 379.97,347.24 380.81,347.65 381.66,348.07 382.50,348.48 382.50,347.58 383.39,347.98 384.27,348.28 385.16,348.58 386.05,348.88 386.94,349.18 387.83,349.48 388.71,349.78 389.60,350.10 389.60,349.20 390.48,349.64 391.35,350.08 392.23,350.51 393.10,350.95 393.10,350.05 393.91,350.31 394.72,350.79 395.53,351.26 396.34,351.72 397.15,352.18 397.95,352.64 398.76,353.10 399.57,353.55 400.38,353.99 401.19,354.36 402.00,354.72 402.81,355.08 403.62,355.44 404.43,355.80 405.24,356.15 406.05,356.49 406.85,356.84 407.66,357.18 408.47,357.51 409.28,357.84 410.09,358.17 410.90,358.50" fill="none" stroke="#40e07a" stroke-width="1.0" stroke-linejoin="miter"/>
<path d="M247.10,392.50L247.10,385.22L248.13,386.59L249.15,387.47L250.18,388.08L251.20,388.50L252.23,388.82L253.25,389.08L254.28,389.29L255.30,389.47L256.33,389.64L257.35,389.79L258.38,389.93L259.40,390.06L260.43,390.18L261.45,390.29L262.48,390.40L263.50,390.51L264.53,390.61L265.55,390.70L266.58,390.79L267.60,390.88L268.63,390.96L269.65,391.04L270.68,391.11L271.70,391.18L272.73,391.25L273.75,391.32L274.78,391.38L275.80,391.44L276.83,391.50L277.85,391.56L278.88,391.61L279.91,391.67L280.93,391.72L281.96,391.77L282.98,391.81L284.01,391.86L285.03,391.90L286.06,391.95L287.08,391.99L288.11,392.03L289.13,392.07L290.16,392.10L291.18,392.14L292.21,392.18L293.23,392.21L294.26,392.24L295.28,392.28L296.31,392.31L297.33,392.34L298.36,392.37L299.38,392.40L300.41,392.43L301.43,392.46L302.46,392.48L303.48,392.51L304.51,392.54L305.53,392.56L306.56,392.59L307.58,392.62L308.61,392.64L309.63,392.66L310.66,392.69L311.68,392.71L312.71,392.73L313.74,392.76L314.76,392.78L315.79,392.80L316.81,392.82L317.84,392.84L318.86,392.87L319.89,392.89L320.91,392.91L321.94,392.93L322.96,392.95L323.99,392.97L325.01,392.99L326.04,393.01L327.06,393.03L328.09,393.04L329.11,393.06L330.14,393.08L331.16,393.10L332.19,393.12L333.21,393.14L334.24,393.15L335.26,393.17L336.29,393.19L337.31,393.21L338.34,393.22L339.36,393.24L340.39,393.26L341.41,393.28L342.44,393.29L343.46,393.31L344.49,393.33L345.52,393.34L346.54,393.36L347.57,393.37L348.59,393.39L349.62,393.41L350.64,393.42L351.67,393.44L352.69,393.45L353.72,393.47L354.74,393.49L355.77,393.50L356.79,393.52L357.82,393.53L358.84,393.55L359.87,393.56L360.89,393.58L361.92,393.59L362.94,393.61L363.97,393.62L364.99,393.64L366.02,393.65L367.04,393.67L368.07,393.68L369.09,393.70L370.12,393.71L371.14,393.72L372.17,393.74L373.19,393.75L374.22,393.77L375.24,393.78L376.27,393.80L377.29,393.81L378.32,393.83L379.35,393.84L380.37,393.85L381.40,393.87L382.42,393.88L383.45,393.90L384.47,393.91L385.50,393.93L386.52,393.95L387.55,393.96L388.57,393.98L389.60,394.00L390.62,394.02L391.65,394.04L392.67,394.07L393.70,394.10L394.72,394.13L395.75,394.17L396.77,394.22L397.80,394.27L398.82,394.34L399.85,394.43L400.87,394.53L401.90,394.66L402.92,394.82L403.95,395.03L404.97,395.29L406.00,395.62L407.02,396.04L408.05,396.58L409.07,397.27L410.10,398.16L410.10,392.50Z" fill="#cfcfcf" stroke="#a5a5a5" stroke-width="0.3"/>
<line x1="246.30" y1="392.50" x2="410.90" y2="392.50" stroke="#b0b0b0" stroke-width="0.3"/>
<rect x="246.30" y="311.10" width="164.60" height="91.20" fill="none" stroke="#222" stroke-width="0.9"/>
<line x1="245.00" y1="318.00" x2="246.30" y2="318.00" stroke="#333" stroke-width="0.4"/>
<text x="239.2" y="319.35" class="s" style="font-size:3.8px;font-weight:normal;" fill="#111">0.5</text>
<line x1="245.00" y1="325.10" x2="246.30" y2="325.10" stroke="#333" stroke-width="0.4"/>
<text x="239.2" y="326.45000000000005" class="s" style="font-size:3.8px;font-weight:normal;" fill="#111">0.4</text>
<line x1="245.00" y1="333.20" x2="246.30" y2="333.20" stroke="#333" stroke-width="0.4"/>
<text x="239.2" y="334.55" class="s" style="font-size:3.8px;font-weight:normal;" fill="#111">0.3</text>
<line x1="245.00" y1="341.20" x2="246.30" y2="341.20" stroke="#333" stroke-width="0.4"/>
<text x="239.2" y="342.55" class="s" style="font-size:3.8px;font-weight:normal;" fill="#111">0.2</text>
<line x1="245.00" y1="349.30" x2="246.30" y2="349.30" stroke="#333" stroke-width="0.4"/>
<text x="239.2" y="350.65000000000003" class="s" style="font-size:3.8px;font-weight:normal;" fill="#111">0.1</text>
<line x1="245.00" y1="357.30" x2="246.30" y2="357.30" stroke="#333" stroke-width="0.4"/>
<text x="239.2" y="358.65000000000003" class="s" style="font-size:3.8px;font-weight:normal;" fill="#111">0.0</text>
<line x1="245.00" y1="381.30" x2="246.30" y2="381.30" stroke="#333" stroke-width="0.4"/>
<text x="245.0" y="382.65000000000003" class="s" style="font-size:3.8px;font-weight:normal;" fill="#111" text-anchor="end">4</text>
<line x1="245.00" y1="386.90" x2="246.30" y2="386.90" stroke="#333" stroke-width="0.4"/>
<text x="245.0" y="388.25" class="s" style="font-size:3.8px;font-weight:normal;" fill="#111" text-anchor="end">2</text>
<line x1="245.00" y1="392.50" x2="246.30" y2="392.50" stroke="#333" stroke-width="0.4"/>
<text x="245.0" y="393.85" class="s" style="font-size:3.8px;font-weight:normal;" fill="#111" text-anchor="end">0</text>
<line x1="245.00" y1="398.10" x2="246.30" y2="398.10" stroke="#333" stroke-width="0.4"/>
<text x="245.0" y="399.45000000000005" class="s" style="font-size:3.8px;font-weight:normal;" fill="#111" text-anchor="end">−2</text>
<line x1="291.90" y1="402.30" x2="291.90" y2="403.60" stroke="#333" stroke-width="0.4"/>
<text x="291.9" y="407.9" class="s" style="font-size:4.0px;font-weight:normal;" fill="#111" text-anchor="middle">2500</text>
<line x1="335.30" y1="402.30" x2="335.30" y2="403.60" stroke="#333" stroke-width="0.4"/>
<text x="335.3" y="407.9" class="s" style="font-size:4.0px;font-weight:normal;" fill="#111" text-anchor="middle">5000</text>
<line x1="376.60" y1="402.30" x2="376.60" y2="403.60" stroke="#333" stroke-width="0.4"/>
<text x="376.6" y="407.9" class="s" style="font-size:4.0px;font-weight:normal;" fill="#111" text-anchor="middle">7500</text>
<text x="312.5" y="413.3" class="s" style="font-size:4.25px;font-weight:normal;" fill="#111" textLength="45.2" lengthAdjust="spacingAndGlyphs">Rank in Ordered dataset</text>
<text x="237.2" y="359.5" class="s" style="font-size:2.8px;font-weight:normal;" fill="#222" textLength="37.5" lengthAdjust="spacingAndGlyphs" transform="rotate(-90 237.2 359.5)">Running Enrichment Score</text>
<text x="237.2" y="400.5" class="s" style="font-size:2.8px;font-weight:normal;" fill="#222" textLength="27" lengthAdjust="spacingAndGlyphs" transform="rotate(-90 237.2 400.5)">Ranked list Metric</text>
<text x="252.4" y="384.2" style="font-size:3.9px;font-weight:bold;" fill="#111" textLength="65.3" lengthAdjust="spacingAndGlyphs">high TP53INP2 VS. low TP53INP2</text>
<text x="340.4" y="319.3" style="font-size:3.9px;font-weight:bold;" fill="#111" textLength="51.9" lengthAdjust="spacingAndGlyphs">autophagosome assembly</text>
<text x="356.4" y="325.7" style="font-size:3.9px;font-weight:bold" fill="#111" textLength="27.4" lengthAdjust="spacingAndGlyphs"><tspan style="font-style:italic">P</tspan> value=1e-04</text>
<polyline points="44.50,458.10 45.00,458.10 45.00,462.50 45.80,462.50 45.80,466.30 46.70,466.30 46.70,469.60 47.70,469.60 47.70,471.00 49.10,471.00 49.10,471.80 50.50,471.80 50.50,472.20 55.20,472.20 55.20,472.50 56.20,472.50 56.20,473.40 58.50,473.40 58.50,473.90 59.50,473.90 59.50,474.80 59.90,474.80 59.90,476.70 60.40,476.70 60.40,479.50 60.90,479.50 60.90,482.40 61.30,482.40 61.30,485.20 62.80,485.20 62.80,485.70 64.20,485.70 64.20,487.10 65.10,487.10 65.10,488.00 71.20,488.00 72.20,488.00 72.20,490.80 72.70,490.80 72.70,493.30 79.00,493.30 79.80,493.30 79.80,503.50 80.20,503.50 80.20,504.30 83.60,504.30 84.50,504.30 84.50,505.60 84.90,505.60 84.90,512.40 92.20,512.40 92.20,520.90" fill="none" stroke="#f01a1a" stroke-width="1.2" stroke-linejoin="miter"/>
<polyline points="44.50,458.10 45.80,458.10 45.80,459.20 51.90,459.20 52.40,459.20 52.40,462.50 53.30,462.50 53.30,464.90 54.30,464.90 54.30,466.30 55.20,466.30 55.20,467.70 55.70,467.70 55.70,469.60 56.20,469.60 56.20,470.10 59.50,470.10 59.50,470.60 60.40,470.60 60.40,472.00 61.30,472.00 61.30,473.40 63.70,473.40 63.70,474.30 64.60,474.30 64.60,477.20 68.90,477.20 68.90,477.50 69.80,477.50 69.80,478.10 71.20,478.10 71.20,479.10 72.20,479.10 72.20,480.50 73.10,480.50 73.10,481.90 74.10,481.90 74.10,483.50 80.10,483.50 80.40,483.50 80.40,486.50 81.90,486.50 81.90,488.20 82.80,488.20 82.80,489.90 84.50,489.90 84.50,490.70 84.90,490.70 84.90,496.30 88.70,496.30 88.70,496.70 89.60,496.70 89.60,498.40 91.70,498.40 91.70,499.20 92.60,499.20 92.60,500.90 93.40,500.90 93.40,503.00 96.80,503.00 96.80,503.30 98.90,503.30 98.90,503.90 100.20,503.90 100.20,505.60 103.20,505.60 103.20,506.00 104.00,506.00 104.00,509.00 105.70,509.00 105.70,509.60 133.20,509.60" fill="none" stroke="#1f1ff0" stroke-width="1.2" stroke-linejoin="miter"/>
<path d="M47.50,469.70V471.90M48.80,470.60V472.80M50.20,471.00V473.20M51.50,471.20V473.40M53.00,471.30V473.50M54.50,471.40V473.60M57.50,472.70V474.90M59.00,469.50V471.70M62.50,484.40V486.60M64.00,473.20V475.40M67.00,476.30V478.50M70.50,477.40V479.60M71.50,486.90V489.10M73.50,481.20V483.40M76.50,482.40V484.60M80.80,503.20V505.40M82.00,487.20V489.40M83.00,503.20V505.40M86.50,495.40V497.60M90.50,497.70V499.90M94.50,502.00V504.20M97.50,502.30V504.50M101.00,504.70V506.90M104.70,508.20V510.40M133.00,508.50V510.70" stroke="#111" stroke-width="0.7" fill="none"/>
<path d="M44.50,451.50V520.90H140.25" fill="none" stroke="#1a1a1a" stroke-width="1.0"/>
<line x1="39.90" y1="458.10" x2="44.50" y2="458.10" stroke="#1a1a1a" stroke-width="1.0"/>
<text x="39.2" y="460.65000000000003" class="b" style="font-size:7.1px;font-weight:bold;" fill="#111" text-anchor="end">100</text>
<line x1="39.90" y1="489.50" x2="44.50" y2="489.50" stroke="#1a1a1a" stroke-width="1.0"/>
<text x="39.2" y="492.05" class="b" style="font-size:7.1px;font-weight:bold;" fill="#111" text-anchor="end">50</text>
<line x1="39.90" y1="520.90" x2="44.50" y2="520.90" stroke="#1a1a1a" stroke-width="1.0"/>
<text x="39.2" y="523.4499999999999" class="b" style="font-size:7.1px;font-weight:bold;" fill="#111" text-anchor="end">0</text>
<line x1="44.50" y1="520.90" x2="44.50" y2="524.30" stroke="#1a1a1a" stroke-width="1.0"/>
<text x="44.6" y="533.3" class="b" style="font-size:7.1px;font-weight:bold;" fill="#111" text-anchor="middle">0</text>
<line x1="63.57" y1="520.90" x2="63.57" y2="524.30" stroke="#1a1a1a" stroke-width="1.0"/>
<text x="63.67" y="533.3" class="b" style="font-size:7.1px;font-weight:bold;" fill="#111" text-anchor="middle">10</text>
<line x1="82.64" y1="520.90" x2="82.64" y2="524.30" stroke="#1a1a1a" stroke-width="1.0"/>
<text x="82.74" y="533.3" class="b" style="font-size:7.1px;font-weight:bold;" fill="#111" text-anchor="middle">20</text>
<line x1="101.71" y1="520.90" x2="101.71" y2="524.30" stroke="#1a1a1a" stroke-width="1.0"/>
<text x="101.81" y="533.3" class="b" style="font-size:7.1px;font-weight:bold;" fill="#111" text-anchor="middle">30</text>
<line x1="120.78" y1="520.90" x2="120.78" y2="524.30" stroke="#1a1a1a" stroke-width="1.0"/>
<text x="120.88" y="533.3" class="b" style="font-size:7.1px;font-weight:bold;" fill="#111" text-anchor="middle">40</text>
<line x1="139.85" y1="520.90" x2="139.85" y2="524.30" stroke="#1a1a1a" stroke-width="1.0"/>
<text x="139.95" y="533.3" class="b" style="font-size:7.1px;font-weight:bold;" fill="#111" text-anchor="middle">50</text>
<line x1="61.40" y1="448.10" x2="72.00" y2="448.10" stroke="#1f1fe6" stroke-width="1.15"/>
<line x1="66.70" y1="447.20" x2="66.70" y2="449.00" stroke="#111" stroke-width="0.6"/>
<line x1="61.40" y1="456.60" x2="72.00" y2="456.60" stroke="#ee2222" stroke-width="1.15"/>
<line x1="66.70" y1="455.70" x2="66.70" y2="457.50" stroke="#111" stroke-width="0.6"/>
<text x="77.3" y="449.8" style="font-size:4.6px;font-weight:bold;" fill="#111" textLength="47.7" lengthAdjust="spacingAndGlyphs">Low TP53INP2 (n=44)</text>
<text x="77.3" y="458.3" style="font-size:4.6px;font-weight:bold;" fill="#111" textLength="48.4" lengthAdjust="spacingAndGlyphs">High TP53INP2 (n=44)</text>
<text x="102.0" y="483.4" style="font-size:4.7px;font-weight:bold" fill="#111" textLength="20.1" lengthAdjust="spacingAndGlyphs"><tspan style="font-style:italic">P</tspan>=0.0219</text>
<text x="90.0" y="492.6" style="font-size:4.7px;font-weight:bold" fill="#111" textLength="50.9" lengthAdjust="spacingAndGlyphs"><tspan style="font-style:italic">HR</tspan>=1.820 (1.004-3.299)</text>
<text x="26.2" y="521.2" class="b" style="font-size:6.6px;font-weight:bold;" fill="#111" textLength="60.7" lengthAdjust="spacingAndGlyphs" transform="rotate(-90 26.2 521.2)">Overall survival (%)</text>
<text x="67.6" y="541.6" class="b" style="font-size:6.6px;font-weight:bold;" fill="#111" textLength="44.6" lengthAdjust="spacingAndGlyphs">Time (Months)</text>
<polyline points="181.50,455.80 182.80,455.80 182.80,458.10 186.10,458.10 186.10,458.40 187.00,458.40 187.00,459.50 188.40,459.50 188.40,460.00 189.40,460.00 189.40,462.40 190.30,462.40 190.30,464.30 191.70,464.30 191.70,466.20 192.70,466.20 192.70,468.00 197.90,468.00 198.30,468.00 198.30,469.50 198.80,469.50 198.80,472.30 201.60,472.30 201.60,472.80 202.10,472.80 202.10,477.10 211.10,477.10 211.60,477.10 211.60,479.90 218.20,479.90 218.70,479.90 218.70,481.80 219.60,481.80 219.60,483.20 220.60,483.20 220.60,484.60 222.00,484.60 222.00,485.60 222.50,485.60 222.50,488.40 222.90,488.40 222.90,498.30 226.70,498.30 227.60,498.30 227.60,501.10 230.50,501.10 230.50,501.60 230.90,501.60 230.90,507.90 271.60,507.90" fill="none" stroke="#f01a1a" stroke-width="1.2" stroke-linejoin="miter"/>
<polyline points="181.50,455.80 182.30,455.80 182.30,459.50 182.80,459.50 182.80,462.40 183.70,462.40 183.70,465.20 185.10,465.20 185.10,467.10 188.00,467.10 189.40,467.10 189.40,468.00 190.80,468.00 190.80,469.00 191.70,469.00 191.70,469.90 192.70,469.90 192.70,471.80 194.10,471.80 194.10,472.30 196.90,472.30 196.90,473.20 197.90,473.20 197.90,474.60 198.30,474.60 198.30,477.50 198.80,477.50 198.80,481.70 199.80,481.70 199.80,482.70 202.10,482.70 202.10,483.60 203.10,483.60 203.10,484.40 207.40,484.40 208.80,484.40 208.80,486.50 209.70,486.50 209.70,489.80 210.70,489.80 210.70,493.10 217.30,493.10 217.70,493.10 217.70,496.40 218.20,496.40 218.20,500.20 218.70,500.20 218.70,503.50 230.50,503.50 230.90,503.50 230.90,507.40 238.00,507.40 238.00,507.60 238.40,507.60 238.40,511.70 241.80,511.70 241.80,512.30 242.40,512.30 242.40,516.00 244.70,516.00" fill="none" stroke="#1f1ff0" stroke-width="1.2" stroke-linejoin="miter"/>
<path d="M184.50,457.30V459.50M186.50,466.00V468.20M193.50,466.90V469.10M195.00,466.90V469.10M196.50,466.90V469.10M195.00,471.50V473.70M200.00,471.70V473.90M204.00,476.00V478.20M210.00,476.00V478.20M208.00,483.30V485.50M211.00,492.00V494.20M214.00,478.80V481.00M216.50,478.80V481.00M219.30,481.70V483.90M221.50,484.20V486.40M225.00,497.20V499.40M229.00,500.30V502.50M234.00,506.80V509.00M236.50,506.80V509.00M240.00,510.90V513.10M244.50,514.90V517.10M271.30,506.80V509.00" stroke="#111" stroke-width="0.7" fill="none"/>
<path d="M181.50,448.80V520.90H279.40" fill="none" stroke="#1a1a1a" stroke-width="1.0"/>
<line x1="176.90" y1="455.80" x2="181.50" y2="455.80" stroke="#1a1a1a" stroke-width="1.0"/>
<text x="176.2" y="458.35" class="b" style="font-size:7.1px;font-weight:bold;" fill="#111" text-anchor="end">100</text>
<line x1="176.90" y1="488.35" x2="181.50" y2="488.35" stroke="#1a1a1a" stroke-width="1.0"/>
<text x="176.2" y="490.90000000000003" class="b" style="font-size:7.1px;font-weight:bold;" fill="#111" text-anchor="end">50</text>
<line x1="176.90" y1="520.90" x2="181.50" y2="520.90" stroke="#1a1a1a" stroke-width="1.0"/>
<text x="176.2" y="523.4499999999999" class="b" style="font-size:7.1px;font-weight:bold;" fill="#111" text-anchor="end">0</text>
<line x1="181.50" y1="520.90" x2="181.50" y2="524.30" stroke="#1a1a1a" stroke-width="1.0"/>
<text x="181.6" y="533.0" class="b" style="font-size:7.1px;font-weight:bold;" fill="#111" text-anchor="middle">0</text>
<line x1="201.00" y1="520.90" x2="201.00" y2="524.30" stroke="#1a1a1a" stroke-width="1.0"/>
<text x="201.1" y="533.0" class="b" style="font-size:7.1px;font-weight:bold;" fill="#111" text-anchor="middle">10</text>
<line x1="220.50" y1="520.90" x2="220.50" y2="524.30" stroke="#1a1a1a" stroke-width="1.0"/>
<text x="220.6" y="533.0" class="b" style="font-size:7.1px;font-weight:bold;" fill="#111" text-anchor="middle">20</text>
<line x1="240.00" y1="520.90" x2="240.00" y2="524.30" stroke="#1a1a1a" stroke-width="1.0"/>
<text x="240.1" y="533.0" class="b" style="font-size:7.1px;font-weight:bold;" fill="#111" text-anchor="middle">30</text>
<line x1="259.50" y1="520.90" x2="259.50" y2="524.30" stroke="#1a1a1a" stroke-width="1.0"/>
<text x="259.6" y="533.0" class="b" style="font-size:7.1px;font-weight:bold;" fill="#111" text-anchor="middle">40</text>
<line x1="279.00" y1="520.90" x2="279.00" y2="524.30" stroke="#1a1a1a" stroke-width="1.0"/>
<text x="279.1" y="533.0" class="b" style="font-size:7.1px;font-weight:bold;" fill="#111" text-anchor="middle">50</text>
<line x1="201.00" y1="447.80" x2="210.90" y2="447.80" stroke="#1f1fe6" stroke-width="1.15"/>
<line x1="205.95" y1="446.90" x2="205.95" y2="448.70" stroke="#111" stroke-width="0.6"/>
<line x1="201.00" y1="456.70" x2="210.90" y2="456.70" stroke="#ee2222" stroke-width="1.15"/>
<line x1="205.95" y1="455.80" x2="205.95" y2="457.60" stroke="#111" stroke-width="0.6"/>
<text x="217.3" y="449.5" style="font-size:4.6px;font-weight:bold;" fill="#111" textLength="43.9" lengthAdjust="spacingAndGlyphs">Low NKX2-3 (n=44)</text>
<text x="217.3" y="458.4" style="font-size:4.6px;font-weight:bold;" fill="#111" textLength="44.5" lengthAdjust="spacingAndGlyphs">High NKX2-3 (n=44)</text>
<text x="241.4" y="487.8" style="font-size:4.7px;font-weight:bold" fill="#111" textLength="19.8" lengthAdjust="spacingAndGlyphs"><tspan style="font-style:italic">P</tspan>=0.1189</text>
<text x="230.1" y="496.3" style="font-size:4.7px;font-weight:bold" fill="#111" textLength="57.5" lengthAdjust="spacingAndGlyphs"><tspan style="font-style:italic">HR</tspan>=0.6495 (0.3712-1.136)</text>
<text x="161.6" y="520.5" class="b" style="font-size:6.6px;font-weight:bold;" fill="#111" textLength="60.5" lengthAdjust="spacingAndGlyphs" transform="rotate(-90 161.6 520.5)">Overall survival (%)</text>
<text x="211.6" y="541.6" class="b" style="font-size:6.6px;font-weight:bold;" fill="#111" textLength="44.8" lengthAdjust="spacingAndGlyphs">Time (Months)</text>
<polyline points="316.60,457.00 317.30,457.00 317.30,461.40 317.80,461.40 317.80,466.20 318.20,466.20 318.20,469.00 319.70,469.00 319.70,470.90 321.50,470.90 321.50,472.30 323.90,472.30 323.90,472.80 324.80,472.80 324.80,474.20 326.30,474.20 326.30,476.10 327.20,476.10 327.20,477.50 328.20,477.50 328.20,479.40 330.00,479.40 330.00,479.80 331.50,479.80 331.50,480.30 332.40,480.30 332.40,482.20 332.90,482.20 332.90,484.50 333.80,484.50 333.80,486.00 334.30,486.00 334.30,487.40 335.70,487.40 335.70,487.70 336.60,487.70 336.60,489.30 337.10,489.30 337.10,492.40 341.60,492.40 343.80,492.40 343.80,493.50 345.20,493.50 345.20,495.90 355.70,495.90 356.50,495.90 356.50,501.40 356.50,505.50 371.40,505.50 372.20,505.50 372.20,508.00 374.70,508.00 374.70,508.80 375.50,508.80 375.50,510.90 405.20,510.90" fill="none" stroke="#f01a1a" stroke-width="1.2" stroke-linejoin="miter"/>
<polyline points="316.60,457.00 323.90,457.00 324.40,457.00 324.40,459.10 324.80,459.10 324.80,461.40 326.70,461.40 326.70,461.90 327.20,461.90 327.20,463.80 331.90,463.80 332.40,463.80 332.40,466.20 333.30,466.20 333.30,470.90 334.30,470.90 334.30,471.30 336.60,471.30 336.60,471.80 338.10,471.80 338.10,472.30 342.30,472.30 342.30,472.80 343.70,472.80 343.70,474.60 344.70,474.60 344.70,477.50 346.10,477.50 346.10,479.80 350.70,479.80 350.70,480.30 351.60,480.30 351.60,483.20 352.40,483.20 352.40,486.50 353.20,486.50 353.20,490.60 355.70,490.60 355.70,491.50 356.50,491.50 356.50,495.60 357.30,495.60 357.30,498.10 360.60,498.10 360.60,498.90 361.50,498.90 361.50,502.20 363.90,502.20 363.90,503.00 364.80,503.00 364.80,507.10 370.50,507.10 370.50,508.00 371.40,508.00 371.40,509.60 374.70,509.60 374.70,510.40 375.50,510.40 375.50,512.10 405.20,512.10" fill="none" stroke="#1f1ff0" stroke-width="1.2" stroke-linejoin="miter"/>
<path d="M318.50,468.70V470.90M320.50,470.50V472.70M322.50,471.50V473.70M325.50,474.10V476.30M327.70,477.30V479.50M329.50,478.60V480.80M331.00,479.10V481.30M332.60,482.30V484.50M334.00,485.50V487.70M335.20,486.50V488.70M338.50,491.30V493.50M340.50,491.30V493.50M343.00,492.20V494.40M344.50,493.70V495.90M329.50,462.70V464.90M331.00,462.70V464.90M335.50,470.50V472.70M339.50,471.40V473.60M344.20,474.90V477.10M348.50,479.00V481.20M349.80,479.20V481.40M353.50,489.90V492.10M359.00,497.50V499.70M362.50,501.90V504.10M366.00,504.40V506.60M369.00,504.40V506.60M373.50,509.10V511.30M377.50,511.00V513.20M404.80,510.40V512.60" stroke="#111" stroke-width="0.7" fill="none"/>
<path d="M316.60,450.20V520.90H412.00" fill="none" stroke="#1a1a1a" stroke-width="1.0"/>
<line x1="312.00" y1="457.00" x2="316.60" y2="457.00" stroke="#1a1a1a" stroke-width="1.0"/>
<text x="311.3" y="459.55" class="b" style="font-size:7.1px;font-weight:bold;" fill="#111" text-anchor="end">100</text>
<line x1="312.00" y1="488.95" x2="316.60" y2="488.95" stroke="#1a1a1a" stroke-width="1.0"/>
<text x="311.3" y="491.5" class="b" style="font-size:7.1px;font-weight:bold;" fill="#111" text-anchor="end">50</text>
<line x1="312.00" y1="520.90" x2="316.60" y2="520.90" stroke="#1a1a1a" stroke-width="1.0"/>
<text x="311.3" y="523.4499999999999" class="b" style="font-size:7.1px;font-weight:bold;" fill="#111" text-anchor="end">0</text>
<line x1="316.60" y1="520.90" x2="316.60" y2="524.30" stroke="#1a1a1a" stroke-width="1.0"/>
<text x="316.70000000000005" y="533.0" class="b" style="font-size:7.1px;font-weight:bold;" fill="#111" text-anchor="middle">0</text>
<line x1="335.60" y1="520.90" x2="335.60" y2="524.30" stroke="#1a1a1a" stroke-width="1.0"/>
<text x="335.70000000000005" y="533.0" class="b" style="font-size:7.1px;font-weight:bold;" fill="#111" text-anchor="middle">10</text>
<line x1="354.60" y1="520.90" x2="354.60" y2="524.30" stroke="#1a1a1a" stroke-width="1.0"/>
<text x="354.70000000000005" y="533.0" class="b" style="font-size:7.1px;font-weight:bold;" fill="#111" text-anchor="middle">20</text>
<line x1="373.60" y1="520.90" x2="373.60" y2="524.30" stroke="#1a1a1a" stroke-width="1.0"/>
<text x="373.70000000000005" y="533.0" class="b" style="font-size:7.1px;font-weight:bold;" fill="#111" text-anchor="middle">30</text>
<line x1="392.60" y1="520.90" x2="392.60" y2="524.30" stroke="#1a1a1a" stroke-width="1.0"/>
<text x="392.70000000000005" y="533.0" class="b" style="font-size:7.1px;font-weight:bold;" fill="#111" text-anchor="middle">40</text>
<line x1="411.60" y1="520.90" x2="411.60" y2="524.30" stroke="#1a1a1a" stroke-width="1.0"/>
<text x="411.70000000000005" y="533.0" class="b" style="font-size:7.1px;font-weight:bold;" fill="#111" text-anchor="middle">50</text>
<line x1="339.30" y1="447.40" x2="349.30" y2="447.40" stroke="#1f1fe6" stroke-width="1.15"/>
<line x1="344.30" y1="446.50" x2="344.30" y2="448.30" stroke="#111" stroke-width="0.6"/>
<line x1="339.30" y1="455.50" x2="349.30" y2="455.50" stroke="#ee2222" stroke-width="1.15"/>
<line x1="344.30" y1="454.60" x2="344.30" y2="456.40" stroke="#111" stroke-width="0.6"/>
<text x="355.2" y="449.09999999999997" style="font-size:4.6px;font-weight:bold;" fill="#111" textLength="42.1" lengthAdjust="spacingAndGlyphs">Low TUSC1 (n=44)</text>
<text x="355.2" y="457.2" style="font-size:4.6px;font-weight:bold;" fill="#111" textLength="42.5" lengthAdjust="spacingAndGlyphs">High TUSC1 (n=44)</text>
<text x="371.8" y="482.6" style="font-size:4.7px;font-weight:bold" fill="#111" textLength="19.5" lengthAdjust="spacingAndGlyphs"><tspan style="font-style:italic">P</tspan>=0.0568</text>
<text x="359.5" y="491.7" style="font-size:4.7px;font-weight:bold" fill="#111" textLength="52.0" lengthAdjust="spacingAndGlyphs"><tspan style="font-style:italic">HR</tspan>=1.682 (0.9421-3.00)</text>
<text x="297.8" y="520.5" class="b" style="font-size:6.6px;font-weight:bold;" fill="#111" textLength="59.9" lengthAdjust="spacingAndGlyphs" transform="rotate(-90 297.8 520.5)">Overall survival (%)</text>
<text x="346.0" y="541.6" class="b" style="font-size:6.6px;font-weight:bold;" fill="#111" textLength="45.2" lengthAdjust="spacingAndGlyphs">Time (Months)</text>
</svg>
</body></html>
